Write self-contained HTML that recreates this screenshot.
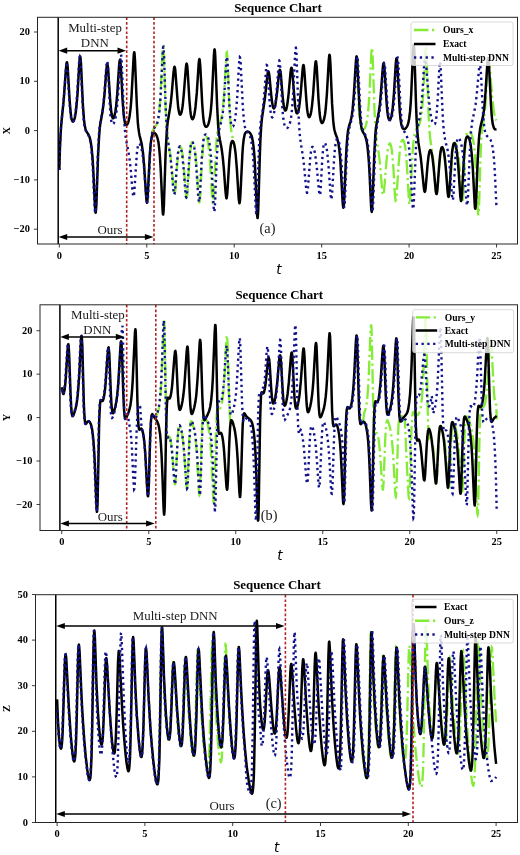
<!DOCTYPE html>
<html><head><meta charset="utf-8"><title>Sequence Chart</title><style>
html,body{margin:0;padding:0;background:#fff;width:520px;height:855px;overflow:hidden;}
svg{display:block;filter:blur(0.45px);}
</style></head><body>
<svg width="520" height="855" viewBox="0 0 520 855">
<rect width="520" height="855" fill="#fff"/>
<clipPath id="clip0"><rect x="37.5" y="17.3" width="480.0" height="226.7"/></clipPath>
<g clip-path="url(#clip0)"><polyline points="148.5,182.0 149.4,162.6 150.1,150.1 150.8,141.2 151.5,135.6 152.2,132.1 152.9,130.1 153.6,128.8 155.3,126.7 156.0,125.6 156.7,124.1 157.2,122.7 158.3,118.1 159.2,111.8 159.9,104.1 160.6,93.4 162.5,52.4 162.8,47.9 163.0,46.9 163.2,46.8 163.5,49.5 163.9,56.0 165.6,107.9 166.2,119.6 166.9,130.6 167.9,140.4 169.8,151.7 170.7,158.0 171.8,168.2 173.5,188.9 174.0,193.1 174.4,194.4 174.6,194.5 174.7,194.2 174.9,193.6 175.4,189.5 177.4,162.8 178.2,153.7 178.8,150.1 179.3,147.8 179.8,146.7 180.0,146.5 180.3,146.5 180.9,147.1 181.6,149.3 182.3,152.9 182.8,156.6 183.8,167.2 185.8,192.5 186.3,196.7 186.5,197.3 186.6,197.5 186.8,197.3 187.2,195.5 187.7,189.7 189.4,161.1 190.3,150.8 190.8,146.8 191.3,144.1 191.9,142.6 192.2,142.1 192.6,142.0 192.9,142.3 193.4,143.2 194.1,145.5 194.8,149.1 195.5,154.3 196.8,168.3 198.7,197.9 199.2,201.8 199.4,202.1 199.6,201.9 199.9,199.7 200.3,195.3 202.0,160.6 203.1,146.0 203.6,141.5 204.3,137.9 205.0,136.1 205.3,135.7 205.9,135.6 206.2,135.8 206.7,136.8 207.4,139.3 208.1,143.0 208.8,148.5 210.1,163.3 212.2,199.2 212.5,202.4 212.7,203.0 213.0,203.0 213.4,200.8 213.7,195.9 215.7,152.7 216.7,137.4 217.2,132.8 217.9,128.7 218.6,126.0 220.4,121.4 221.3,118.4 222.1,114.0 222.8,108.9 223.5,101.7 224.2,91.9 226.2,57.0 226.5,53.3 226.7,52.4 226.9,52.2 227.2,54.6 227.6,60.0 229.3,104.2 230.4,122.2 230.9,127.7 231.6,132.7 232.3,136.0 233.9,142.2 234.7,146.8" fill="none" stroke="#84ec34" stroke-width="2.3" stroke-dasharray="14.4 3.6 2.2 3.6"/><polyline points="356.6,56.3 356.8,56.9 357.2,61.4 358.7,105.2 359.6,120.3 360.1,125.1 360.8,128.4 361.2,129.2 361.7,129.9 362.4,130.1 363.1,129.9 364.0,129.2 364.7,128.3 365.4,126.8 366.1,124.8 367.1,119.8 368.0,113.0 368.7,105.0 369.4,93.9 371.3,53.3 371.7,49.0 371.8,47.9 372.0,47.8 372.4,50.7 372.7,57.6 374.5,110.0 375.0,121.3 375.5,129.6 376.0,135.6 376.6,139.9 378.5,151.3 379.5,159.3 380.4,168.4 382.0,188.3 382.5,193.2 382.9,194.9 383.0,195.2 383.2,195.1 383.4,194.8 383.7,193.2 384.1,190.6 386.4,162.0 387.6,150.6 388.1,147.5 388.8,144.9 389.5,143.6 389.9,143.4 390.0,143.5 390.4,144.0 390.7,144.9 391.3,147.0 391.8,150.2 392.3,154.6 393.4,167.7 394.9,194.6 395.5,200.0 395.6,200.6 395.8,200.4 396.2,198.8 396.7,193.9 398.8,162.3 399.8,150.5 400.5,145.4 401.2,142.3 401.6,141.3 402.1,140.3 402.5,140.0 403.0,140.0 403.3,140.3 403.9,141.3 404.6,143.7 405.3,147.6 406.0,153.4 407.0,166.8 408.8,198.4 409.1,202.7 409.4,204.5 409.6,204.4 409.8,203.7 410.3,198.2 412.4,156.3 412.9,148.3 413.6,140.6 414.3,135.5 415.0,132.4 415.9,130.1 418.4,126.4 419.6,123.7 420.6,119.8 421.5,114.5 422.2,108.3 422.9,99.7 423.8,84.7 425.2,55.9 425.7,49.3 425.9,48.4 426.1,48.3 426.4,51.4 426.8,58.8 428.3,109.0 428.9,121.3 429.4,130.2 430.3,139.5 432.2,151.8 433.1,158.6 433.9,167.7 435.5,187.8 436.2,193.5" fill="none" stroke="#84ec34" stroke-width="2.3" stroke-dasharray="14.4 3.6 2.2 3.6"/><polyline points="436.6,194.2 436.7,194.1 437.1,192.8 437.6,188.5 439.4,165.3 440.2,155.9 441.1,150.1 441.6,148.3 442.2,147.4" fill="none" stroke="#84ec34" stroke-width="2.3" stroke-dasharray="14.4 3.6 2.2 3.6"/><polyline points="443.0,148.0 443.6,149.5 444.1,151.8 445.1,159.0 446.0,168.0 447.9,192.4 448.5,196.1 448.6,196.6 448.8,196.7 449.0,196.6 449.3,195.2 449.9,190.5 452.0,159.8 452.5,153.9 453.2,148.2 453.9,144.8 454.2,143.8 454.7,143.0 455.1,142.9 455.6,143.3 456.5,145.1 457.2,147.7 457.7,150.4 458.8,158.1 459.8,169.7 461.7,196.8 462.3,201.4 462.6,202.6 463.0,199.9 463.3,193.5 464.9,152.0 465.4,143.2 465.9,137.6 466.6,133.5 467.2,132.0 467.7,131.3 468.4,131.1 469.4,131.5 470.3,132.3 471.2,133.6 472.2,136.2 473.1,139.7 474.0,145.3 474.7,151.8 475.9,169.9 477.7,207.6 478.0,212.8 478.4,215.4 478.5,214.7 478.7,212.8 479.1,205.1 480.5,157.4 481.3,138.5 482.2,128.9 484.1,117.4 485.2,107.8 486.1,94.8 487.5,66.2 488.0,59.4 488.2,58.6 488.5,59.0 488.7,59.5 489.2,62.4 489.6,65.3 492.2,96.7 493.6,109.6 494.3,113.9 495.0,117.0 495.9,119.4 496.5,120.4" fill="none" stroke="#84ec34" stroke-width="2.3" stroke-dasharray="14.4 3.6 2.2 3.6"/><polyline points="59.3,170.0 60.0,146.4 60.9,129.2 61.6,120.7 63.7,100.1 65.8,70.7 66.5,63.5 66.8,62.2 67.0,62.2 67.3,63.8 67.7,67.3 69.6,100.1 70.7,113.0 71.2,116.9 71.7,119.5 72.4,121.2 72.8,121.5 73.1,121.6 73.5,121.3 74.0,120.4 74.9,117.6 75.7,112.8 76.4,107.0 77.5,94.3 79.4,61.9 79.8,58.1 80.1,56.5 80.3,56.7 80.5,57.5 81.0,63.7 82.9,105.0 84.0,119.7 84.7,125.3 85.4,128.6 86.2,131.1 88.5,134.7 89.6,137.1 90.6,141.3 91.5,147.0 92.4,156.1 93.1,166.7 95.0,207.1 95.3,211.5 95.5,212.6 95.7,212.7 96.0,210.1 96.4,204.0 98.1,154.6 99.2,134.9 99.7,128.8 100.2,124.4 102.5,111.7 103.5,104.2 104.6,93.3 106.3,70.4 107.0,64.8 107.2,64.3 107.4,64.3 107.6,64.7 108.1,68.3 110.2,100.5 111.1,110.3 111.6,114.1 112.1,116.5 112.6,117.9 113.0,118.2 113.3,118.2 113.7,117.9 114.0,117.2 114.7,114.9 115.4,111.3 116.0,107.5 117.2,94.4 119.1,65.6 119.6,60.9 119.8,60.2 120.0,60.1 120.2,60.5 120.5,63.1 120.9,67.5 122.6,100.7 123.7,114.7 124.2,119.0 124.9,122.6 125.2,123.7 125.8,124.6 126.1,124.9 126.6,124.9 127.2,124.5 127.7,123.6 128.2,122.4 128.7,120.6 129.6,116.2 130.5,109.2 131.2,101.1 131.7,93.1 133.5,59.2 133.8,54.5 134.2,52.3 134.3,52.3 134.5,53.1 135.0,60.3 136.8,104.2 137.8,122.3 138.4,127.9 139.1,132.9 139.6,135.6 141.2,141.8 141.9,145.1 143.1,153.6 144.1,165.4 145.9,193.4 146.6,201.5 146.9,202.7 147.1,202.5 147.6,198.2 149.7,157.3 150.2,149.5 150.9,142.0 151.6,137.4 152.0,135.9 152.5,134.4 153.0,133.5 153.7,133.0 154.4,133.0 155.1,133.4 155.8,134.2 156.5,135.4 157.6,138.4 158.5,142.6 159.3,149.4 160.0,157.7 160.7,169.4 162.5,208.4 162.8,213.2 163.0,214.3 163.2,214.5 163.5,211.8 163.9,205.3 165.6,153.3 166.7,132.9 167.2,126.6 167.7,122.0 170.0,108.4 170.9,101.7 171.8,93.0 173.5,72.3 174.2,67.3 174.4,66.8 174.6,66.7 174.7,67.0 175.1,68.6 175.4,71.6 177.4,98.3 178.2,107.5 178.8,111.1 179.3,113.4 179.8,114.5 180.0,114.7 180.3,114.7 180.9,114.1 181.6,111.9 182.3,108.3 182.8,104.5 183.8,94.0 185.8,68.7 186.3,64.5 186.5,63.8 186.6,63.6 186.8,63.9 187.2,65.7 187.7,71.5 189.4,100.1 190.3,110.4 190.8,114.5 191.3,117.1 191.9,118.6 192.2,119.1 192.6,119.2 192.9,119.0 193.4,118.0 194.1,115.8 194.8,112.1 195.5,106.9 196.8,92.9 198.7,63.3 199.2,59.4 199.4,59.1 199.6,59.4 199.9,61.8 200.3,66.2 202.2,103.6 203.2,117.0 203.9,122.1 204.6,125.0 205.0,125.8 205.5,126.6 206.0,126.8 206.6,126.7 207.3,126.1 207.8,125.3 208.5,123.7 209.0,121.9 209.9,117.6 210.8,110.8 211.5,102.6 212.0,94.5 213.9,55.0 214.3,50.6 214.4,49.6 214.6,49.4 215.0,51.7 215.3,57.5 217.1,105.5 218.1,125.0 218.6,131.1 219.2,135.4 219.9,139.7 221.6,148.5 222.8,157.6 223.9,169.4 225.5,191.3 226.2,197.5 226.3,198.1 226.5,198.3 226.7,198.0 227.2,194.3 227.7,187.1 229.3,160.2 230.2,149.8 230.7,145.8 231.2,143.1 231.9,141.3 232.3,140.9 232.6,140.9 233.0,141.3 233.5,142.3 234.2,144.6 234.9,148.3 235.6,153.5 236.8,167.8 238.7,198.6 239.3,202.9 239.4,203.3 239.6,203.0 240.0,200.6 240.5,193.0 242.4,154.0 242.9,146.7 243.6,140.0 244.5,135.2 245.0,133.6 245.6,132.6 246.3,131.9 247.1,131.6 248.0,131.7 249.1,132.2 249.9,132.9 250.6,133.9 251.3,135.3 251.9,136.8 252.9,141.7 253.8,148.7 254.5,157.4 255.0,166.3 256.8,208.8 257.1,215.2 257.5,218.1 257.6,218.0 257.8,216.6 258.2,210.6 259.9,153.4 260.4,140.1 261.1,127.6 262.0,118.0 264.8,99.0 267.3,76.4 267.8,73.0 268.1,71.8 268.3,71.5 268.5,71.5 268.8,72.4 269.4,75.5 271.3,95.8 272.2,103.1 273.0,107.2 273.4,108.0 273.6,108.2 273.9,108.4 274.3,108.1 274.8,107.0 275.3,105.0 275.8,102.1 276.9,94.0 279.0,73.3 279.5,70.4 279.8,69.8 280.0,69.9 280.4,71.1 280.9,75.0 282.6,95.8 283.5,104.1 284.4,108.9 284.9,110.2 285.1,110.5 285.4,110.6 286.0,110.0 286.5,108.5 287.0,106.2 287.5,103.1 288.6,94.1 290.5,72.7 291.0,68.9 291.4,67.7 291.6,67.7 291.9,68.6 292.4,72.6 294.4,97.9 295.2,106.7 296.1,111.6 296.6,113.0 296.8,113.2 297.2,113.4 297.7,112.9 298.4,110.9 299.1,107.4 299.6,103.7 300.7,93.5 302.6,69.5 303.1,65.7 303.3,65.1 303.5,65.0 303.8,65.9 304.3,70.3 306.3,99.3 307.1,109.1 307.7,112.9 308.2,115.4 308.7,116.8 309.2,117.2 309.6,117.0 309.9,116.4 310.6,114.4 311.3,110.9 312.0,105.8 313.1,94.7 315.0,66.9 315.5,62.2 315.7,61.5 315.9,61.2 316.1,61.5 316.2,62.3 316.8,67.6 318.5,99.1 319.6,113.0 320.1,117.3 320.8,120.9 321.5,122.6 321.8,123.0 322.2,123.0 322.7,122.6 323.2,121.7 324.1,119.0 325.0,114.5 325.7,109.0 326.9,94.0 328.8,59.9 329.2,56.1 329.3,55.1 329.5,54.8 329.7,55.1 329.9,56.2 330.4,63.5 332.1,103.9 333.2,120.3 333.7,125.3 334.4,129.8 335.3,133.2 336.9,137.4 337.7,140.3 338.6,144.5 339.3,149.5 340.0,156.5 340.5,163.3 342.6,201.5 343.0,205.8 343.3,207.7 343.5,207.6 343.7,206.7 344.2,199.6 346.0,157.4 346.5,147.5 347.2,138.0 347.7,133.2 348.2,129.8 348.9,126.7 350.5,121.3 351.2,118.5 351.9,114.7 352.6,109.4 353.8,95.3 355.8,62.6 356.3,57.1 356.5,56.4 356.6,56.3 357.0,58.1 357.3,62.5 359.3,103.9 360.3,119.2 361.0,125.1 361.7,128.7 362.6,131.3 364.7,135.0 365.7,137.6 366.8,142.0 367.6,147.9 368.3,155.0 368.9,162.3 369.6,174.8 371.0,204.7 371.3,209.7 371.7,211.9 371.8,211.7 372.0,210.5 372.5,202.0 374.3,153.7 375.3,135.0 375.9,129.3 376.4,125.1 378.8,112.0 379.9,104.2 380.9,92.8 382.7,68.8 383.2,64.2 383.6,63.1 383.7,63.1 384.1,64.8 384.6,70.4 386.4,99.8 387.2,110.5 387.8,114.8 388.3,117.7 389.0,119.7 389.3,120.1 389.7,120.1 390.0,119.8 390.6,118.9 391.3,116.6 392.0,113.1 392.7,107.9 393.9,94.0 395.8,63.2 396.3,58.6 396.5,58.2 396.7,58.3 397.0,60.3 397.4,64.7 399.3,103.4 399.8,111.6 400.5,119.3 401.4,124.9 402.3,127.6 402.8,128.4 403.5,129.0 404.4,129.0 405.3,128.7 406.1,127.9 406.8,126.9 407.5,125.5 408.1,123.9 409.1,119.0 410.0,111.9 410.7,103.3 411.2,94.5 413.1,50.1 413.5,45.6 413.6,44.7 413.8,44.9 414.2,48.5 414.5,56.1 416.1,106.5 416.6,119.4 417.3,131.6 418.4,142.4 420.5,155.7 421.3,162.4 423.8,187.3 424.3,190.7 424.7,191.7 424.8,191.8 425.0,191.5 425.2,191.0 425.7,187.5 427.6,164.4 428.5,156.3 429.4,151.6 429.9,150.4 430.1,150.2 430.4,150.1 431.0,150.8 431.5,152.3 432.5,157.9 433.6,167.1 435.7,190.5 436.2,193.6 436.4,194.0 436.6,194.0 436.7,193.7 437.1,191.9 437.6,186.9 439.2,164.9 440.1,155.4 440.6,151.5 441.1,148.9 441.6,147.5 441.8,147.3 442.2,147.1 442.7,147.6 443.4,149.6 444.1,153.0 444.6,156.6 445.7,166.8 447.6,191.5 448.1,195.8 448.5,196.9 448.6,196.8 449.0,195.3 449.5,190.0 451.3,162.3 452.1,152.0 452.7,147.9 453.2,145.2 453.7,143.6 454.0,143.1 454.4,143.0 454.7,143.3 455.1,143.9 455.8,146.0 456.5,149.4 457.2,154.4 458.4,167.9 460.3,196.5 460.9,200.6 461.0,201.0 461.2,200.8 461.6,198.9 462.1,192.3 463.7,162.2 464.7,147.6 465.2,143.0 465.9,139.1 466.3,137.9 466.8,136.8 467.2,136.5 467.7,136.4 468.2,136.8 468.7,137.7 469.3,138.9 469.8,140.7 470.7,145.0 471.5,151.9 472.2,160.0 472.8,167.9 474.7,204.1 475.0,207.8 475.2,208.6 475.4,208.7 475.7,206.4 476.1,201.1 477.8,157.6 478.9,139.5 479.4,133.8 480.1,128.8 480.8,125.4 482.9,116.9 483.6,112.8 484.3,107.2 485.5,92.6 487.3,64.1 487.6,60.2 488.0,58.2 488.2,58.0 488.3,58.5 488.9,63.5 491.0,105.3 491.5,113.0 492.2,120.3 492.9,124.7 493.8,127.7 494.3,128.6 495.0,129.2 495.7,129.4 496.5,129.3" fill="none" stroke="#000" stroke-width="2.5" stroke-linejoin="round"/><polyline points="59.3,170.0 60.0,146.4 60.9,129.2 61.6,120.7 63.1,105.8 63.8,98.1 66.5,62.2 66.6,62.2 66.8,62.8 67.3,67.3 69.3,100.1 70.3,113.0 70.8,116.9 71.4,119.5 72.1,121.2 72.4,121.5 72.8,121.5 73.1,121.3 73.6,120.4 74.5,117.5 75.2,113.9 75.9,108.6 77.1,94.3 79.1,61.9 79.6,57.0 79.8,56.5 79.9,56.7 80.3,59.0 80.6,63.7 82.6,105.0 83.6,119.6 84.3,125.3 85.0,128.6 85.9,131.0 88.2,134.7 89.2,137.1 90.3,141.3 91.1,147.0 92.0,156.1 92.7,166.7 94.6,207.1 95.0,211.5 95.2,212.6 95.3,212.7 95.7,210.3 96.0,204.4 97.8,155.6 98.8,135.7 99.4,129.5 99.9,125.1 100.6,120.8 102.3,111.7 103.5,102.5 104.6,90.5 106.2,68.2 106.7,62.9 107.0,61.3 107.2,61.1 107.4,61.2 107.9,66.1 109.7,103.4 110.5,115.8 111.1,120.1 111.6,122.6 111.9,123.6 112.3,124.1 112.6,124.2 113.0,124.1 113.5,123.7 114.0,122.8 115.1,119.7 116.0,115.4 116.8,109.0 117.5,101.9 118.2,92.7 120.2,61.2 120.7,55.9 121.0,54.7 121.4,56.9 121.7,62.1 123.7,110.1 124.2,120.2 124.9,130.1 125.9,139.2 128.4,151.3 129.6,159.4 130.7,169.3 132.4,189.8 133.1,195.5 133.5,196.6 133.6,196.7 133.8,196.3 134.3,192.3 136.3,161.2 137.1,151.0 137.7,147.1 138.2,144.8 138.7,143.6 138.9,143.5 139.2,143.5 139.6,143.7 140.1,144.5 141.0,146.9 141.9,150.6 142.6,154.8 143.3,160.3 144.0,167.3 146.4,197.7 146.9,201.3 147.1,201.9 147.3,202.1 147.4,202.0 147.8,199.8 148.3,192.1 150.2,151.9 150.8,144.3 151.5,137.3 152.2,133.0 153.0,130.0 153.9,128.4 156.2,125.4 156.9,124.0 157.6,122.0 158.6,117.1 159.5,110.3 160.2,102.0 160.7,93.7 162.7,52.4 163.0,47.9 163.2,46.9 163.4,46.8 163.7,49.8 164.1,56.8 165.6,106.2 166.2,118.8 166.9,130.6 167.7,139.4 169.8,152.6 170.7,159.5 171.6,168.7 173.2,188.4 173.9,193.8 174.0,194.4 174.2,194.5 174.4,194.2 174.7,192.6 175.1,189.5 177.0,162.8 177.9,153.7 178.4,150.1 178.9,147.8 179.5,146.7 179.6,146.5 180.0,146.5 180.5,147.1 181.2,149.3 181.9,152.9 182.4,156.6 183.5,167.2 185.4,192.5 185.9,196.7 186.1,197.3 186.3,197.5 186.5,197.3 186.8,195.5 187.3,189.7 189.1,161.1 190.0,150.8 190.5,146.8 191.0,144.1 191.5,142.6 191.9,142.1 192.2,142.0 192.6,142.3 193.1,143.2 193.8,145.5 194.5,149.1 195.2,154.3 196.4,168.3 198.3,197.9 198.9,201.8 199.0,202.1 199.2,201.8 199.6,199.4 199.9,195.0 201.8,157.6 202.9,144.2 203.6,139.1 204.3,136.3 204.6,135.4 205.2,134.7 205.7,134.4 206.2,134.5 206.9,135.1 207.4,135.9 208.1,137.6 208.7,139.3 209.5,143.6 210.4,150.4 211.1,158.6 211.6,166.7 213.6,206.2 213.9,210.6 214.1,211.6 214.3,211.8 214.6,209.6 215.0,204.2 216.7,159.6 217.8,141.4 218.3,135.8 219.0,130.9 219.5,128.3 221.1,122.4 221.8,119.3 222.5,115.1 223.2,109.3 224.2,96.4 226.0,65.3 226.3,60.3 226.7,57.3 226.9,56.7 227.0,57.1 227.6,63.3 229.1,100.7 230.0,115.3 230.5,120.5 231.1,123.7 231.8,125.9 232.1,126.4 232.6,126.7 233.0,126.5 233.5,125.8 234.4,123.2 235.2,118.5 235.9,112.9 237.2,97.5 239.1,62.9 239.4,58.9 239.8,57.1 240.0,57.3 240.1,58.0 240.7,63.7 242.8,106.1 243.5,116.0 244.2,122.6 244.9,126.7 245.7,129.6 246.6,131.2 248.4,133.4 249.1,134.4 249.8,135.8 250.3,137.2 251.0,139.8 251.5,142.5 252.4,149.1 253.1,156.9 253.8,167.7 255.7,208.1 256.1,212.3 256.2,213.3 256.4,213.4 256.8,210.8 257.1,203.7 258.7,153.3 259.2,141.0 259.7,132.2 260.6,123.1 262.5,110.9 263.4,103.8 264.3,93.9 265.9,71.5 266.2,67.7 266.6,65.5 266.7,65.0 266.9,65.1 267.1,65.7 267.6,70.1 269.4,98.2 270.2,108.9 270.8,113.1 271.3,115.7 271.8,117.0 272.2,117.3 272.3,117.2 272.7,116.9 273.2,116.0 273.9,113.7 274.6,110.2 275.3,105.4 276.5,92.9 278.6,64.7 279.1,61.0 279.3,60.6 279.5,60.8 279.8,63.0 280.2,67.1 282.1,103.4 282.6,111.1 283.3,118.5 284.0,123.2 284.9,126.4 285.4,127.4 286.0,127.9 286.7,128.1 287.4,127.9 288.1,127.3 288.8,126.2 289.5,124.6 290.0,122.9 290.9,118.8 291.7,112.3 292.4,104.6 293.1,94.0 295.1,54.0 295.4,49.4 295.6,48.2 295.8,47.8 295.9,47.8 296.1,48.9 296.5,54.1 298.4,110.8 298.9,122.3 299.6,133.1 300.7,142.6 302.4,153.0 303.3,159.2 304.2,167.1 306.1,188.0 306.6,191.6 307.0,192.7 307.1,192.7 307.5,191.6 308.0,187.3 309.8,163.2 310.6,154.0 311.2,150.4 311.7,148.1 312.2,147.0 312.4,146.9 312.7,146.9 313.1,147.2 313.4,147.7 314.1,149.6 314.8,152.6 315.5,156.8 316.8,167.4 318.9,190.4 319.4,194.0 319.7,195.1 319.9,195.2 320.3,193.5 320.6,189.5 322.2,160.4 322.9,151.0 323.2,147.8 323.7,144.7 324.3,143.2 324.4,143.0 324.8,142.9 325.1,143.2 325.5,143.9 326.2,146.2 326.9,149.9 327.4,153.8 328.6,167.0 330.6,195.0 331.1,199.1 331.3,199.6 331.4,199.3 331.8,197.2 332.1,193.3 333.9,162.3 334.9,148.6 335.5,144.3 336.2,140.8 336.5,139.8 336.9,139.2 337.2,139.0 337.6,139.0 337.9,139.3 338.4,140.3 339.3,143.3 340.0,147.3 340.7,153.1 341.4,161.5 341.9,169.7 343.5,200.5 343.9,205.3 344.2,207.5 344.6,205.6 344.9,200.8 346.8,155.2 347.9,138.8 348.4,133.7 349.1,129.2 349.8,126.2 351.9,118.7 352.6,115.1 353.3,110.0 354.0,103.1 354.7,93.8 356.6,61.3 357.0,57.7 357.3,56.3 357.7,58.1 358.0,62.5 360.0,103.9 361.0,119.3 361.7,125.2 362.4,128.7 363.3,131.3 365.4,135.0 366.4,137.6 367.3,141.1 368.2,146.5 369.0,155.1 369.7,165.1 371.8,207.5 372.2,211.2 372.4,211.9 372.5,211.7 372.9,208.5 373.2,202.0 375.0,153.7 376.0,135.0 376.6,129.3 377.1,125.1 379.5,112.0 380.6,104.2 381.6,92.8 383.2,70.9 383.9,64.2 384.3,63.1 384.4,63.2 384.8,64.8 385.1,68.1 387.1,99.7 388.1,112.1 388.6,115.9 389.2,118.3 389.7,119.6 390.0,120.0 390.4,120.1 390.7,119.8 391.3,118.9 392.1,116.1 392.8,112.5 393.5,107.3 394.8,93.4 396.7,63.0 397.2,58.3 397.4,57.7 397.6,57.6 397.7,57.9 397.9,58.8 398.4,65.0 400.4,104.6 401.4,119.0 402.1,124.6 402.8,128.0 403.7,130.5 406.0,134.4 407.0,136.9 407.9,140.2 408.8,145.5 409.4,151.7 410.1,160.4 410.8,172.2 412.4,203.7 412.8,207.8 412.9,208.8 413.1,209.0 413.3,208.6 413.5,207.3 413.8,202.0 415.6,155.2 416.1,144.4 416.6,136.5 417.1,130.9 417.7,127.0 420.1,115.1 420.8,110.5 421.3,105.9 422.4,93.2 424.1,65.0 424.5,61.3 424.8,59.6 425.2,59.8 425.5,61.0 426.2,65.9 429.0,100.5 429.7,107.5 430.4,113.0 431.3,118.0 432.2,121.3 433.1,123.2 433.6,123.8 434.3,124.2 434.8,124.1 435.0,123.9 435.5,122.4 436.2,118.3 436.7,113.5 437.8,98.1 439.4,66.3 439.7,62.4 439.9,61.6 440.1,61.9 440.4,64.8 440.8,70.3 442.5,111.0 443.0,120.5 443.7,129.8 444.3,134.6 444.8,138.1 445.5,141.5 447.6,150.0 448.8,157.8 450.0,170.3 451.8,193.8 452.5,199.5 452.7,200.0 452.8,200.1 453.0,199.7 453.5,194.8 455.3,159.7 456.1,147.3 456.7,142.8 457.2,140.0 457.5,138.9 457.9,138.2 458.2,138.0 458.6,138.0 459.1,138.4 459.6,139.2 460.7,141.8 461.7,146.3 462.6,152.0 463.3,158.3 464.0,166.3 466.3,199.9 466.8,204.5 467.2,205.5 467.5,203.4 467.9,198.4 470.0,148.1 470.5,138.8 471.2,129.8 472.2,121.6 474.5,110.7 475.6,104.5 476.8,93.9 478.9,70.4 479.2,67.7 479.6,66.0 479.8,65.6 479.9,65.5 480.1,65.6 480.5,67.6 481.0,74.4 483.1,114.3 483.8,123.0 484.5,128.7 485.2,132.2 486.1,134.6 486.9,135.9 488.9,137.7 489.7,138.6 490.4,139.7 491.1,141.3 491.8,143.5 492.4,145.9 493.4,153.0 494.1,160.6 494.8,171.1 496.5,208.0" fill="none" stroke="#12128c" stroke-width="2.4" stroke-dasharray="2.3 3.5"/></g>
<line x1="126.7" y1="17.3" x2="126.7" y2="244.0" stroke="#b02424" stroke-width="1.6" stroke-dasharray="2.7 2.0"/>
<line x1="154.0" y1="17.3" x2="154.0" y2="244.0" stroke="#b02424" stroke-width="1.6" stroke-dasharray="2.7 2.0"/>
<line x1="58.2" y1="17.3" x2="58.2" y2="244.0" stroke="#000" stroke-width="1.5"/>
<line x1="66.2" y1="50.7" x2="118.5" y2="50.7" stroke="#000" stroke-width="1.5"/><polygon points="58.6,50.7 67.2,47.6 67.2,53.800000000000004" fill="#000"/><polygon points="126.1,50.7 117.5,47.6 117.5,53.800000000000004" fill="#000"/>
<line x1="66.2" y1="237.0" x2="145.9" y2="237.0" stroke="#000" stroke-width="1.5"/><polygon points="58.6,237.0 67.2,233.9 67.2,240.1" fill="#000"/><polygon points="153.5,237.0 144.9,233.9 144.9,240.1" fill="#000"/>
<text x="95" y="32.1" text-anchor="middle" font-family="'Liberation Serif','Times New Roman',serif" font-size="12.9" fill="#1a1a1a">Multi-step</text>
<text x="94.8" y="46.9" text-anchor="middle" font-family="'Liberation Serif','Times New Roman',serif" font-size="12.9" fill="#1a1a1a">DNN</text>
<text x="110" y="233.7" text-anchor="middle" font-family="'Liberation Serif','Times New Roman',serif" font-size="12.9" fill="#1a1a1a">Ours</text>
<text x="267.5" y="232.6" text-anchor="middle" font-family="'Liberation Serif','Times New Roman',serif" font-size="14.3" fill="#1a1a1a">(a)</text>
<rect x="411" y="22" width="102" height="43.5" rx="2" fill="#fff" fill-opacity="0.8" stroke="#d0d0d0" stroke-width="0.8"/>
<line x1="414" y1="30" x2="435.5" y2="30" stroke="#84ec34" stroke-width="2.3" stroke-dasharray="14.4 3.6 2.2 3.6"/>
<text x="443" y="33.4" font-family="'Liberation Serif','Times New Roman',serif" font-weight="bold" font-size="9.6" fill="#000">Ours_x</text>
<line x1="414" y1="44" x2="435.5" y2="44" stroke="#000" stroke-width="2.5"/>
<text x="443" y="47.4" font-family="'Liberation Serif','Times New Roman',serif" font-weight="bold" font-size="9.6" fill="#000">Exact</text>
<line x1="414" y1="57.5" x2="435.5" y2="57.5" stroke="#12128c" stroke-width="2.4" stroke-dasharray="2.3 3.5"/>
<text x="443" y="60.9" font-family="'Liberation Serif','Times New Roman',serif" font-weight="bold" font-size="9.6" fill="#000">Multi-step DNN</text>
<rect x="37.5" y="17.3" width="480.0" height="226.7" fill="none" stroke="#262626" stroke-width="1"/>
<line x1="59.30" y1="244.0" x2="59.30" y2="247.5" stroke="#262626" stroke-width="0.9"/>
<text x="59.30" y="258.6" text-anchor="middle" font-family="'Liberation Serif','Times New Roman',serif" font-weight="bold" font-size="10.4" fill="#000">0</text>
<line x1="146.75" y1="244.0" x2="146.75" y2="247.5" stroke="#262626" stroke-width="0.9"/>
<text x="146.75" y="258.6" text-anchor="middle" font-family="'Liberation Serif','Times New Roman',serif" font-weight="bold" font-size="10.4" fill="#000">5</text>
<line x1="234.20" y1="244.0" x2="234.20" y2="247.5" stroke="#262626" stroke-width="0.9"/>
<text x="234.20" y="258.6" text-anchor="middle" font-family="'Liberation Serif','Times New Roman',serif" font-weight="bold" font-size="10.4" fill="#000">10</text>
<line x1="321.65" y1="244.0" x2="321.65" y2="247.5" stroke="#262626" stroke-width="0.9"/>
<text x="321.65" y="258.6" text-anchor="middle" font-family="'Liberation Serif','Times New Roman',serif" font-weight="bold" font-size="10.4" fill="#000">15</text>
<line x1="409.10" y1="244.0" x2="409.10" y2="247.5" stroke="#262626" stroke-width="0.9"/>
<text x="409.10" y="258.6" text-anchor="middle" font-family="'Liberation Serif','Times New Roman',serif" font-weight="bold" font-size="10.4" fill="#000">20</text>
<line x1="496.55" y1="244.0" x2="496.55" y2="247.5" stroke="#262626" stroke-width="0.9"/>
<text x="496.55" y="258.6" text-anchor="middle" font-family="'Liberation Serif','Times New Roman',serif" font-weight="bold" font-size="10.4" fill="#000">25</text>
<line x1="34.0" y1="229.20" x2="37.5" y2="229.20" stroke="#262626" stroke-width="0.9"/>
<text x="30.0" y="232.30" text-anchor="end" font-family="'Liberation Serif','Times New Roman',serif" font-weight="bold" font-size="10.4" fill="#000">−20</text>
<line x1="34.0" y1="179.90" x2="37.5" y2="179.90" stroke="#262626" stroke-width="0.9"/>
<text x="30.0" y="183.00" text-anchor="end" font-family="'Liberation Serif','Times New Roman',serif" font-weight="bold" font-size="10.4" fill="#000">−10</text>
<line x1="34.0" y1="130.60" x2="37.5" y2="130.60" stroke="#262626" stroke-width="0.9"/>
<text x="30.0" y="133.70" text-anchor="end" font-family="'Liberation Serif','Times New Roman',serif" font-weight="bold" font-size="10.4" fill="#000">0</text>
<line x1="34.0" y1="81.30" x2="37.5" y2="81.30" stroke="#262626" stroke-width="0.9"/>
<text x="30.0" y="84.40" text-anchor="end" font-family="'Liberation Serif','Times New Roman',serif" font-weight="bold" font-size="10.4" fill="#000">10</text>
<line x1="34.0" y1="32.00" x2="37.5" y2="32.00" stroke="#262626" stroke-width="0.9"/>
<text x="30.0" y="35.10" text-anchor="end" font-family="'Liberation Serif','Times New Roman',serif" font-weight="bold" font-size="10.4" fill="#000">20</text>
<text x="0" y="0" transform="translate(10.2,130.7) rotate(-90)" text-anchor="middle" font-family="'Liberation Serif','Times New Roman',serif" font-weight="bold" font-size="10.4" fill="#000">X</text>
<text x="279" y="273.5" text-anchor="middle" font-family="'DejaVu Sans',sans-serif" font-style="italic" font-size="13.5" fill="#000">t</text>
<text x="278.0" y="11.5" text-anchor="middle" font-family="'Liberation Serif','Times New Roman',serif" font-weight="bold" font-size="12.9" fill="#000">Sequence Chart</text>
<clipPath id="clip1"><rect x="40" y="304.8" width="477.5" height="225.7"/></clipPath>
<g clip-path="url(#clip1)"><polyline points="155.2,418.6 155.5,418.7 155.9,418.2 156.8,414.6 157.8,412.3 158.7,409.3 159.5,404.6 160.4,396.8 161.1,387.3 161.6,377.5 163.4,330.2 163.7,323.1 163.9,321.1 164.1,320.6 164.4,324.9 164.8,336.8 166.0,405.6 166.3,419.7 166.8,432.0 167.2,435.8 167.5,437.3 167.7,437.6 167.9,437.6 168.8,436.8 169.1,436.6 169.6,437.0 170.3,438.9 171.0,442.6 172.1,451.7 174.2,478.8 174.5,482.1 174.8,484.1 175.0,484.3 175.2,484.0 175.4,483.0 175.9,476.7 177.3,445.5 178.0,433.5 178.7,427.2 179.0,425.8 179.2,425.5 179.5,425.3 179.9,425.6 180.4,426.9 181.3,430.2 182.2,434.8 182.9,439.8 183.5,446.3 184.2,454.7 186.2,483.8 186.7,488.3 186.9,488.7 187.0,488.5 187.4,485.7 187.7,480.1 189.1,443.0 189.8,429.5 190.2,425.4 190.5,422.9 190.9,421.6 191.0,421.3 191.4,421.2 191.9,421.9 192.4,423.3 193.6,427.7 194.7,433.1 195.6,439.8 196.3,447.2 196.9,457.1 198.9,491.5 199.2,494.8 199.4,495.3 199.6,495.0 199.9,491.5 200.3,484.0 201.5,442.7 202.2,425.3 202.5,420.2 202.9,417.2 203.2,415.6 203.4,415.2 203.7,415.0 204.1,415.3 204.4,415.9 207.2,421.5 207.7,423.9 209.1,432.2 209.8,437.4 210.5,444.9 211.2,455.2 213.1,496.6 213.5,502.1 213.7,503.6 213.8,504.1 214.0,503.4 214.2,501.5 214.5,493.5 215.9,435.0 216.3,423.8 216.8,413.2 217.1,409.5 217.7,407.3 217.8,407.1 218.2,407.1 219.2,408.3 219.7,408.5 220.1,408.4 220.4,408.1 221.0,407.0 221.8,403.9 222.7,398.4 223.4,392.0 224.1,383.0 224.8,371.0 226.2,342.6 226.5,337.6 226.9,335.4 227.0,335.8 227.2,337.3 227.6,343.6 229.1,400.8 229.5,410.2 230.0,419.1 230.4,422.2 230.5,423.1 230.9,424.0 231.1,424.1 231.2,424.0 232.1,422.6 232.4,422.3 232.8,422.3 233.0,422.5 233.3,423.1 234.2,426.2 235.2,432.5" fill="none" stroke="#84ec34" stroke-width="2.3" stroke-dasharray="14.4 3.6 2.2 3.6"/><polyline points="362.6,422.0 362.9,421.5 363.1,420.8 364.3,412.5 365.4,409.6 366.1,406.6 366.8,402.2 367.5,395.9 368.2,386.7 368.7,377.4 370.4,334.0 370.8,327.4 371.1,324.6 371.3,325.3 371.5,327.5 371.8,336.9 373.2,405.7 373.6,417.9 374.1,428.7 374.4,432.1 374.8,433.6 374.9,433.9 375.3,433.9 376.2,433.0 376.5,432.9 376.9,433.1 377.2,433.6 377.7,435.0 378.1,436.5 378.8,440.6 380.0,452.5 381.9,481.6 382.6,488.9 382.8,489.5 383.0,489.5 383.1,488.8 383.6,482.0 385.2,440.3 385.9,427.6 386.3,423.9 386.6,421.7 387.0,420.6 387.1,420.4 387.5,420.4 388.0,421.2 388.5,422.5 389.9,427.3 391.0,432.6 391.8,439.1 392.5,446.4 393.2,456.1 395.1,491.5 395.7,496.7 395.8,496.9 396.0,496.1 396.4,491.6 396.7,483.1 397.9,440.1 398.4,426.4 399.1,416.7 399.7,414.1 399.8,413.7 400.2,413.6 400.7,414.2 402.4,417.1 404.5,419.2 404.9,421.4 405.4,431.2 406.1,449.9 408.2,489.8 408.7,497.1 408.9,498.2 409.1,498.4 409.4,495.9 409.8,489.0 411.3,433.5 411.7,424.8 412.2,416.7 412.7,413.1 412.9,412.6 413.2,412.2 413.8,412.5 415.1,414.7 416.0,415.4 416.5,415.5 417.2,415.3 417.9,414.8 418.4,414.2 419.3,412.6 420.0,410.5 420.7,407.5 421.2,404.2 422.1,396.2 423.0,383.3 423.8,363.4 425.1,327.9 425.4,320.8 425.6,319.0 425.8,318.7 426.1,323.6 426.3,329.0 427.7,407.0 428.0,421.3 428.5,433.7 428.9,437.5 429.2,439.0 429.4,439.3 429.6,439.3 430.5,438.4 430.8,438.2 431.3,438.6 431.8,439.9 432.2,441.3 432.9,445.4 433.6,452.0 434.8,474.4 435.3,480.1" fill="none" stroke="#84ec34" stroke-width="2.3" stroke-dasharray="14.4 3.6 2.2 3.6"/><polyline points="435.8,483.2 436.0,483.5 436.2,483.3 436.4,482.7 436.9,477.7 438.6,443.4 439.3,433.2 440.0,427.8 440.4,426.5 440.5,426.2 440.9,426.0 441.2,426.2 441.8,427.3 442.6,430.2 443.5,434.3 444.4,439.8 445.1,445.7 445.8,453.2 448.0,483.7 448.6,487.3 448.7,487.6 448.9,487.4 449.2,485.1 449.8,477.1 451.2,443.4 451.9,430.9 452.2,427.0 452.7,423.5 453.1,422.4 453.2,422.2 453.6,422.1 454.1,422.8 454.6,424.0 456.0,428.9 457.1,434.3 457.9,440.7 458.6,447.6 459.3,456.5 461.3,487.7 461.8,493.0 461.9,493.7 462.1,493.7 462.5,491.3 463.0,481.8 464.4,440.3 465.1,425.7 465.4,421.3 465.8,418.6 466.3,416.7 466.5,416.5 466.8,416.5 467.5,417.5 468.4,419.4 470.0,423.3 470.8,425.9 472.0,431.2 473.1,438.5 474.0,447.8 474.7,458.2 476.9,507.7 477.3,512.9 477.4,514.4 477.6,514.9 477.8,514.0 478.0,511.4 478.3,501.0 479.5,438.0 479.9,424.3 480.4,411.9 480.7,407.9 481.1,406.1 481.3,405.8 481.6,405.8 482.7,406.8 483.2,407.0 483.7,406.8 484.0,406.3 484.6,405.1 485.1,403.2 486.1,397.2 486.8,391.1 487.5,382.9 489.8,344.1 490.1,339.9 490.5,338.1 490.7,338.3 490.8,338.9 491.0,339.9 491.5,345.6 493.3,381.0 494.0,392.7 494.5,398.5 495.0,402.0 495.5,403.8 495.9,404.4 496.2,404.6 496.4,407.3 496.7,419.5" fill="none" stroke="#84ec34" stroke-width="2.3" stroke-dasharray="14.4 3.6 2.2 3.6"/><polyline points="61.8,387.2 62.8,392.7 63.3,394.0 63.5,394.0 63.8,393.5 64.5,390.3 65.1,386.0 65.8,377.9 67.7,348.2 68.0,345.1 68.2,344.3 68.4,344.3 68.7,346.4 69.2,355.5 70.6,395.4 71.3,408.7 71.8,413.8 72.4,415.9 72.7,416.1 73.1,415.9 73.9,414.1 75.3,409.7 76.4,405.1 77.2,399.5 77.9,393.2 79.2,376.3 80.9,341.7 81.2,337.2 81.4,336.1 81.6,335.8 81.9,338.5 82.3,345.6 83.8,402.5 84.2,411.3 84.7,419.5 85.1,422.2 85.2,423.0 85.6,423.8 85.8,423.9 86.1,423.7 87.3,421.9 88.2,421.2 88.5,421.2 89.1,421.3 89.9,422.2 90.6,423.6 91.3,425.7 92.0,428.8 92.5,432.1 93.4,440.2 94.3,453.0 95.0,467.7 96.4,504.5 96.9,511.8 97.1,511.7 97.2,510.1 97.6,501.7 99.0,431.2 99.3,418.0 99.9,406.1 100.2,402.2 100.6,400.5 100.9,400.1 101.2,400.2 102.1,401.0 102.5,401.0 102.8,400.7 103.3,399.5 103.7,398.2 104.4,394.3 105.1,388.6 105.6,383.1 107.5,355.5 108.2,348.3 108.4,347.5 108.6,347.4 108.7,347.9 109.3,353.5 110.8,392.3 111.5,405.1 112.2,411.5 112.6,412.8 112.7,413.1 113.1,413.2 113.6,412.5 114.1,411.2 115.3,406.7 116.2,402.2 117.1,395.9 117.8,388.9 118.5,379.8 120.4,346.8 120.9,341.7 121.1,341.3 121.3,341.6 121.6,345.1 122.0,352.1 123.2,391.0 123.9,408.0 124.6,416.4 125.1,418.6 125.3,418.8 125.6,418.8 126.3,417.8 127.7,414.6 128.7,411.9 129.4,409.7 130.5,404.9 131.3,398.6 132.0,391.1 132.7,380.7 134.7,337.8 135.0,331.8 135.4,329.2 135.5,329.6 135.7,331.4 136.0,339.3 137.4,400.6 137.8,412.4 138.3,423.6 138.7,427.4 138.8,428.5 139.2,429.6 139.5,429.9 140.7,428.7 141.3,428.6 141.8,429.1 142.3,430.3 143.2,433.9 143.9,438.6 144.6,445.2 145.3,454.2 147.2,489.1 147.7,495.4 147.9,496.3 148.1,496.3 148.2,495.3 148.8,486.5 150.1,439.3 150.8,423.0 151.2,418.4 151.5,415.8 151.7,415.0 152.1,414.2 152.2,414.1 152.6,414.3 154.5,417.5 156.8,420.7 157.8,422.9 158.5,425.0 159.0,427.3 160.1,434.2 160.9,444.0 161.6,455.8 162.3,472.0 163.5,506.3 163.9,512.9 164.1,514.5 164.2,514.6 164.6,509.6 164.8,504.3 166.1,429.2 166.5,415.4 167.0,403.3 167.4,399.5 167.7,397.9 168.1,397.6 169.1,398.5 169.5,398.6 169.8,398.3 170.5,396.5 171.2,393.1 171.9,387.8 172.4,382.7 174.3,357.9 175.0,351.7 175.2,351.0 175.4,350.9 175.5,351.3 176.1,356.0 177.8,393.0 178.5,403.6 178.9,406.7 179.2,408.7 179.5,409.7 179.9,409.9 180.2,409.6 180.8,408.5 181.6,405.4 182.5,401.0 183.4,394.8 184.1,388.3 184.8,379.9 186.7,351.2 187.2,346.9 187.4,346.5 187.6,346.8 187.9,349.4 188.2,354.9 189.6,391.4 190.3,405.1 191.0,412.0 191.4,413.5 191.6,413.8 191.9,414.0 192.4,413.4 192.9,412.2 194.3,407.3 195.4,401.8 196.3,395.1 196.9,387.7 197.6,378.0 199.6,344.0 199.9,340.6 200.1,339.9 200.3,340.0 200.6,343.1 200.9,350.0 202.3,395.8 202.9,408.5 203.6,417.5 204.1,419.8 204.3,420.1 204.6,420.2 205.3,419.2 207.9,414.1 209.1,411.2 209.8,408.7 210.3,406.2 211.2,400.1 212.1,390.4 212.8,379.0 214.7,332.1 215.2,324.9 215.4,324.9 215.6,326.4 215.9,334.3 217.3,402.3 217.7,415.4 218.2,427.4 218.5,431.4 218.9,433.3 219.2,433.8 219.6,433.7 220.3,433.0 220.6,432.8 221.0,432.9 221.3,433.3 221.8,434.6 222.2,436.0 222.9,439.9 223.6,445.6 224.1,451.3 226.2,482.8 226.5,487.0 226.9,489.4 227.0,489.8 227.2,489.4 227.4,488.4 227.9,480.6 229.3,442.6 230.0,428.7 230.4,424.6 230.7,422.0 231.1,420.7 231.2,420.3 231.6,420.2 232.1,420.8 232.6,422.1 234.2,427.5 235.2,432.8 236.1,439.4 236.8,446.9 237.5,456.8 239.4,492.3 239.8,496.2 239.9,497.1 240.1,497.1 240.4,494.1 240.8,487.0 242.2,438.7 242.7,425.3 243.1,419.6 243.6,414.9 243.8,414.2 244.1,413.4 244.3,413.3 244.6,413.5 246.7,416.8 247.6,417.6 250.0,419.4 250.7,420.2 251.4,421.4 252.1,423.1 252.8,425.6 253.8,431.9 254.7,441.1 255.6,456.0 256.3,473.6 257.5,511.8 258.0,520.6 258.2,520.4 258.4,518.1 258.7,507.0 260.1,421.5 260.5,407.6 261.0,396.4 261.3,393.3 261.7,392.3 261.9,392.2 262.0,392.3 262.9,393.4 263.2,393.5 263.4,393.4 263.8,392.8 264.1,391.9 264.6,389.7 265.2,386.5 265.9,380.9 267.8,361.7 268.3,358.4 268.6,357.7 268.8,357.9 269.0,358.4 269.2,359.3 269.7,364.5 271.1,387.0 271.8,396.2 272.5,401.5 272.8,402.8 273.0,403.2 273.3,403.5 273.5,403.4 273.9,402.9 274.6,400.9 275.2,397.7 275.9,393.4 277.2,383.0 279.2,359.5 279.8,356.0 279.9,355.4 280.1,355.3 280.3,355.6 280.6,357.6 281.2,363.9 282.6,389.5 283.3,399.1 283.9,404.2 284.3,405.3 284.5,405.6 284.8,405.7 285.2,405.3 285.5,404.6 286.2,402.1 286.9,398.6 287.6,394.0 288.8,382.7 290.9,356.7 291.4,352.9 291.6,352.4 291.8,352.4 292.1,353.9 292.6,360.2 294.0,389.2 294.7,400.5 295.4,406.6 295.8,408.0 296.0,408.3 296.3,408.6 296.6,408.3 297.0,407.6 297.9,404.6 298.7,400.2 299.6,394.2 300.8,381.7 302.9,352.5 303.3,349.6 303.4,348.7 303.6,348.5 303.8,348.8 304.0,349.8 304.5,356.6 305.9,390.6 306.6,403.5 307.3,410.1 307.6,411.6 307.8,412.0 308.1,412.2 308.5,411.9 309.0,410.8 310.2,406.5 311.1,402.0 312.0,395.8 312.7,389.1 313.4,380.3 315.4,346.5 315.8,343.5 316.0,343.0 316.1,343.2 316.5,346.0 316.8,352.3 318.2,393.7 318.7,405.6 319.4,414.4 320.0,416.9 320.1,417.2 320.5,417.3 321.0,416.7 321.9,414.7 322.9,411.7 323.8,408.7 324.8,403.5 325.7,396.9 326.4,389.2 327.1,378.7 329.0,339.0 329.4,334.4 329.5,333.3 329.7,333.3 330.1,336.7 330.4,345.0 331.8,400.6 332.1,410.9 332.7,420.7 333.0,424.0 333.5,426.1 333.7,426.2 334.1,426.2 335.1,424.9 335.8,424.4 336.1,424.5 336.5,424.7 337.2,425.9 337.7,427.3 338.2,429.4 339.1,434.6 340.0,442.8 340.7,452.4 341.4,465.2 342.8,496.6 343.1,502.1 343.3,503.6 343.5,504.1 343.6,503.4 343.8,501.5 344.2,493.5 345.5,435.0 345.9,423.8 346.4,413.2 346.8,409.5 347.3,407.3 347.5,407.1 347.8,407.1 348.8,408.3 349.4,408.5 349.7,408.4 350.1,408.1 350.6,407.0 351.5,403.9 352.3,398.4 353.0,392.0 353.7,383.0 354.4,371.0 355.8,342.6 356.2,337.6 356.5,335.4 356.7,335.8 356.9,337.3 357.2,343.6 358.8,400.8 359.1,410.2 359.6,419.1 360.2,423.1 360.3,423.7 360.7,424.2 361.0,424.1 362.4,422.2 363.1,421.7 363.5,421.7 364.0,421.9 364.9,422.9 365.6,424.5 366.2,427.0 367.3,433.0 368.2,441.3 369.0,454.5 369.7,469.4 370.9,501.2 371.3,507.8 371.6,510.6 371.8,509.9 372.0,507.7 372.3,498.3 373.7,429.5 374.1,417.3 374.6,406.5 374.9,403.1 375.3,401.6 375.5,401.3 375.8,401.3 376.7,402.2 377.0,402.3 377.4,402.1 377.7,401.6 378.3,400.2 378.6,398.7 379.3,394.6 380.5,382.7 382.4,353.6 383.1,346.3 383.3,345.7 383.5,345.7 383.6,346.4 384.2,353.2 385.7,394.9 386.4,407.6 386.8,411.3 387.1,413.5 387.5,414.6 387.7,414.8 388.0,414.8 388.5,414.0 389.0,412.7 390.4,407.9 391.5,402.6 392.3,396.1 393.0,388.8 393.7,379.1 395.7,343.7 396.2,338.5 396.4,338.3 396.5,339.1 396.9,343.6 397.2,352.1 398.4,395.1 399.0,408.8 399.3,414.8 399.8,419.7 400.0,420.6 400.4,421.5 400.5,421.6 400.9,421.5 402.8,418.3 403.5,417.5 405.7,415.2 407.0,413.1 407.7,411.2 408.2,409.1 409.2,402.7 410.1,393.5 411.0,378.7 411.7,361.6 412.9,325.2 413.2,318.6 413.4,317.2 413.6,317.6 413.8,319.8 414.1,330.4 415.5,411.4 415.8,424.9 416.4,436.1 416.7,439.3 417.1,440.4 417.2,440.6 417.4,440.5 418.4,439.5 418.8,439.6 419.0,439.7 419.7,441.5 420.2,443.9 420.7,447.4 421.4,453.5 423.5,476.8 423.8,479.3 424.2,480.4 424.4,480.4 424.5,479.9 424.7,479.0 425.2,473.3 426.6,447.3 427.3,436.9 428.0,431.0 428.4,429.6 428.5,429.2 428.9,428.9 429.2,429.2 429.6,429.8 430.3,432.1 431.2,436.4 431.8,441.1 433.1,452.5 435.2,479.1 435.7,483.0 435.8,483.5 436.0,483.5 436.2,483.0 436.5,480.2 436.9,475.3 438.3,445.3 439.0,433.9 439.7,427.8 440.0,426.5 440.2,426.2 440.5,426.0 440.9,426.3 441.2,427.0 442.1,429.9 443.0,434.3 443.9,440.2 444.5,446.6 445.2,454.8 447.2,482.6 447.7,487.1 447.9,487.7 448.0,487.6 448.4,485.4 448.9,477.1 450.1,445.6 450.8,431.7 451.5,424.5 452.0,422.4 452.2,422.2 452.6,422.1 453.1,422.9 453.6,424.3 454.8,428.9 455.7,433.5 456.6,440.1 457.3,447.2 457.9,456.6 459.9,489.3 460.2,492.8 460.4,493.6 460.6,493.7 460.9,491.2 461.3,485.1 462.6,441.9 463.3,426.0 463.7,421.3 464.0,418.5 464.4,417.0 464.6,416.6 464.9,416.5 465.4,417.1 466.1,418.5 467.7,422.3 468.6,424.9 469.8,430.3 470.6,436.5 471.5,446.2 472.2,457.4 474.1,500.1 474.5,504.7 474.7,505.6 474.8,505.2 475.2,500.5 475.5,490.3 476.7,435.6 477.1,423.7 477.6,412.3 478.0,408.4 478.5,406.0 478.7,405.8 479.0,405.8 479.9,406.8 480.4,407.0 480.9,406.8 481.3,406.3 481.8,405.0 482.3,403.0 483.2,397.8 483.9,391.4 484.6,382.7 486.7,344.7 487.0,340.1 487.4,338.1 487.5,338.4 487.7,339.7 488.0,345.5 489.8,403.1 490.1,410.9 490.7,418.1 491.2,421.1 491.4,421.5 491.7,421.8 492.2,421.3 493.4,419.2 494.1,418.2 495.0,417.4 496.7,416.0" fill="none" stroke="#000" stroke-width="2.5" stroke-linejoin="round"/><polyline points="61.8,389.0 62.4,392.7 63.0,394.0 63.1,394.0 63.5,393.5 64.2,390.3 64.7,386.0 65.4,377.9 67.3,348.2 67.7,345.1 67.8,344.3 68.0,344.3 68.4,346.4 68.7,351.7 70.3,395.4 70.6,403.1 71.1,410.8 71.7,414.8 71.8,415.4 72.2,416.1 72.5,416.1 72.9,415.6 73.8,413.6 75.0,409.7 76.0,405.1 76.9,399.5 77.6,393.2 78.8,376.3 80.5,341.7 80.9,337.2 81.1,336.1 81.2,335.8 81.6,338.5 81.9,345.6 83.5,402.5 83.8,411.3 84.4,419.5 84.7,422.2 84.9,423.0 85.2,423.8 85.4,423.9 85.8,423.7 87.0,421.9 87.8,421.2 88.2,421.2 88.7,421.3 89.6,422.2 90.3,423.6 91.0,425.7 91.7,428.8 92.2,432.1 93.1,440.2 93.9,453.0 94.6,467.7 96.0,504.5 96.4,510.4 96.5,511.8 96.7,511.7 97.1,506.8 97.4,495.0 98.8,424.1 99.3,409.1 99.9,402.2 100.0,401.2 100.4,400.2 100.7,400.1 101.6,400.9 101.9,401.1 102.3,400.9 102.6,400.4 103.3,398.2 104.0,394.3 104.7,388.6 105.4,381.0 107.5,351.2 107.9,348.3 108.0,347.5 108.2,347.4 108.6,350.0 108.9,356.6 110.3,400.7 111.0,413.6 111.3,416.5 111.5,417.3 111.9,418.0 112.2,417.9 112.7,417.2 113.9,413.9 115.2,409.1 116.2,403.6 117.1,397.5 118.0,389.5 119.3,371.4 121.6,332.7 122.1,327.3 122.5,325.9 122.6,327.4 123.0,339.0 123.9,393.4 124.2,408.1 124.6,415.9 124.9,418.6 125.1,418.9 125.3,418.8 126.0,417.8 127.5,414.2 127.7,414.0 127.9,414.3 128.2,416.2 128.9,423.0 129.8,427.0 130.5,431.5 131.2,438.1 131.9,447.7 133.4,480.5 134.0,488.4 134.1,489.3 134.3,489.0 134.5,487.9 135.0,480.1 136.6,432.2 137.3,416.5 137.6,411.7 138.1,407.4 138.7,405.7 139.0,405.4 139.4,405.4 140.1,406.2 140.2,407.0 141.6,428.2 141.8,429.1 142.5,430.9 143.2,433.9 143.9,438.6 144.4,443.3 145.6,459.8 147.4,491.7 147.7,495.4 147.9,496.3 148.1,496.3 148.4,493.4 148.8,486.5 150.3,434.3 150.7,426.1 151.2,418.4 151.7,415.0 151.9,414.5 152.2,414.1 152.8,414.5 154.1,417.0 155.2,418.6 155.4,418.7 155.5,418.7 155.7,418.4 156.1,417.4 156.8,414.1 157.6,411.9 158.3,409.5 159.0,406.1 159.5,402.5 160.4,393.6 161.1,382.8 162.0,363.2 163.2,328.9 163.5,322.3 163.7,320.7 163.9,320.6 164.2,325.6 164.4,330.9 165.8,406.0 166.1,419.8 166.7,431.9 167.0,435.7 167.4,437.3 167.7,437.6 168.8,436.7 169.1,436.6 169.5,436.9 170.2,438.7 170.8,442.1 171.5,447.4 172.1,452.5 174.0,477.3 174.7,483.5 174.8,484.2 175.0,484.3 175.2,483.9 175.7,479.2 177.5,442.2 178.2,431.6 178.5,428.5 178.9,426.5 179.2,425.5 179.5,425.3 179.9,425.6 180.4,426.7 181.3,429.8 182.2,434.2 183.0,440.4 183.7,446.9 184.4,455.3 186.3,484.0 186.9,488.3 187.0,488.7 187.2,488.4 187.6,485.8 187.9,480.3 189.3,443.8 190.0,430.1 190.7,423.2 191.0,421.7 191.2,421.4 191.6,421.2 192.1,421.8 192.6,423.0 194.0,427.9 195.0,433.4 195.9,440.1 196.6,447.5 197.3,457.2 199.2,491.2 199.6,494.6 199.7,495.3 199.9,495.2 200.3,492.1 200.6,485.2 202.0,439.4 202.5,426.7 203.2,417.7 203.7,415.4 203.9,415.1 204.3,415.0 205.0,416.0 207.6,421.1 208.8,424.0 209.5,426.5 210.0,429.0 210.9,435.1 211.6,442.5 212.3,453.0 213.0,467.4 214.3,503.1 214.7,508.9 214.9,510.3 215.0,510.3 215.4,505.7 215.7,494.6 217.0,432.9 217.3,419.8 217.8,407.8 218.2,403.8 218.5,401.9 218.9,401.4 219.2,401.5 219.9,402.2 220.3,402.4 220.6,402.3 221.0,401.9 221.5,400.6 221.8,399.2 222.5,395.3 223.2,389.6 223.9,381.7 225.8,352.4 226.4,346.7 226.7,345.4 226.9,345.8 227.4,351.3 229.0,392.6 229.7,406.5 230.0,410.6 230.4,413.2 230.7,414.5 230.9,414.9 231.2,415.0 231.7,414.4 232.3,413.1 233.8,407.7 234.9,402.4 235.8,395.8 236.4,388.3 237.1,378.4 239.1,342.9 239.4,339.0 239.6,338.1 239.8,338.1 240.1,341.1 240.4,348.2 242.0,401.6 242.4,409.9 242.9,417.6 243.4,421.0 243.6,421.5 243.9,421.9 244.4,421.5 245.7,419.4 246.5,418.2 247.9,417.1 248.3,417.1 248.8,418.5 249.5,421.6 250.7,425.6 251.8,431.9 252.6,441.1 253.5,456.0 254.2,473.6 255.4,511.8 255.9,520.6 256.1,520.4 256.3,518.1 256.6,507.0 258.0,421.5 258.4,407.6 258.9,396.4 259.2,393.3 259.6,392.3 259.8,392.2 259.9,392.3 260.8,393.4 261.2,393.5 261.3,393.4 261.7,392.8 262.0,391.9 262.9,388.0 263.1,387.6 263.2,387.6 263.8,387.9 264.1,387.2 264.8,379.9 266.7,351.2 267.1,347.9 267.4,346.5 267.6,346.8 267.8,347.7 268.3,354.9 269.7,391.4 270.4,405.1 271.1,412.0 271.4,413.5 271.6,413.8 271.9,414.0 272.5,413.4 273.0,412.2 274.4,407.3 275.4,401.8 276.3,395.1 277.0,387.7 277.7,378.0 279.6,344.0 279.9,340.6 280.1,339.9 280.3,340.0 280.6,343.1 281.0,350.0 282.4,395.8 282.9,408.5 283.6,417.5 284.1,419.8 284.3,420.1 284.6,420.2 285.3,419.2 287.9,414.1 289.2,411.2 289.9,408.7 290.4,406.2 291.3,400.1 292.0,392.7 292.6,382.2 293.3,367.8 294.7,332.1 295.1,326.3 295.3,324.9 295.4,324.9 295.8,329.5 296.1,340.6 297.3,402.3 297.7,415.4 298.2,427.4 298.6,431.4 298.9,433.3 299.3,433.8 299.4,433.7 300.3,430.4 300.7,429.8 300.8,429.9 301.7,432.8 302.6,437.5 303.3,442.4 304.0,448.8 306.2,477.2 306.9,483.0 307.1,483.5 307.3,483.5 307.4,483.0 308.0,478.0 309.5,445.3 310.2,433.9 310.9,427.8 311.3,426.5 311.4,426.2 311.8,426.0 312.1,426.3 312.5,427.0 313.4,429.9 314.2,434.3 315.1,440.2 315.8,446.6 316.5,454.8 318.4,482.6 318.9,487.1 319.1,487.7 319.3,487.6 319.6,485.4 320.1,477.1 321.4,445.6 322.1,431.7 322.8,424.5 323.3,422.4 323.4,422.2 323.8,422.1 324.3,422.9 324.8,424.3 326.1,428.9 326.9,433.5 327.8,440.1 328.5,447.2 329.2,456.6 331.1,489.3 331.4,492.8 331.6,493.6 331.8,493.7 332.1,491.2 332.5,485.1 333.9,441.9 334.6,426.0 334.9,421.3 335.3,418.5 335.6,417.0 335.8,416.6 336.1,416.5 336.5,416.8 336.8,417.4 338.2,420.6 339.3,423.3 340.1,426.1 340.8,429.3 341.4,432.5 342.2,439.9 342.9,449.7 344.0,495.9 344.3,502.7 344.5,501.5 344.8,493.5 346.2,435.0 346.6,423.8 347.1,413.2 347.5,409.5 348.0,407.3 348.2,407.1 348.5,407.1 349.5,408.3 350.1,408.5 350.4,408.4 350.8,408.1 351.3,407.0 352.2,403.9 353.0,398.4 353.7,392.0 354.4,383.0 355.1,371.0 356.5,342.6 356.9,337.6 357.2,335.4 357.4,335.8 357.5,337.3 357.9,343.6 359.5,400.8 359.8,410.2 360.3,419.1 360.9,423.1 361.0,423.7 361.4,424.2 361.7,424.1 363.1,422.2 363.8,421.7 364.2,421.7 364.7,421.9 365.6,422.9 366.2,424.5 366.9,427.0 368.0,433.0 368.9,441.3 369.7,454.5 370.4,469.4 371.6,501.2 372.0,507.8 372.3,510.6 372.5,509.9 372.7,507.7 373.0,498.3 374.6,422.8 375.1,409.2 375.6,403.1 375.8,402.2 376.2,401.3 376.5,401.3 377.4,402.2 377.7,402.3 378.1,402.1 378.4,401.6 379.1,399.5 379.8,395.8 380.5,390.3 381.2,382.7 383.5,349.2 383.8,346.3 384.0,345.7 384.2,345.7 384.5,347.9 384.9,353.2 386.4,394.9 386.8,402.2 387.3,409.7 387.8,413.5 388.0,414.2 388.3,414.8 388.7,414.8 389.0,414.4 389.9,412.2 391.1,407.9 392.0,403.6 392.7,399.0 393.4,392.7 394.6,376.2 396.4,343.7 396.7,339.6 396.9,338.5 397.0,338.3 397.4,340.8 397.7,347.4 399.3,400.3 399.7,408.8 400.2,416.9 400.7,420.6 400.9,421.1 401.2,421.6 401.4,421.6 401.7,421.3 403.1,418.9 404.0,417.7 404.4,417.6 404.7,417.9 405.4,419.5 406.8,421.7 407.5,423.5 408.4,426.9 409.1,431.1 409.9,439.5 410.8,452.9 411.5,468.9 412.9,510.0 413.2,516.6 413.4,518.0 413.6,517.6 413.8,515.4 414.1,504.8 415.5,423.8 415.8,410.3 416.4,399.1 416.7,395.9 417.1,394.8 417.2,394.6 417.4,394.7 418.4,395.7 418.8,395.6 419.0,395.5 419.7,393.7 420.2,391.3 421.2,383.4 423.3,360.1 424.0,355.2 424.2,354.8 424.4,354.8 424.5,355.3 425.1,359.5 427.0,393.7 427.3,398.3 427.8,403.1 428.2,405.0 428.5,406.0 428.9,406.3 429.4,405.8 429.9,404.4 430.5,402.4 431.7,396.0 431.8,396.4 432.0,397.8 432.9,411.0 433.1,412.8 433.2,413.3 434.5,409.8 435.3,405.9 436.2,399.9 436.9,392.7 437.6,382.6 438.1,372.7 439.7,335.0 440.0,329.3 440.2,327.8 440.4,327.5 440.7,331.0 441.1,340.6 442.5,405.1 442.8,416.3 443.3,426.4 443.7,429.7 443.9,430.5 444.2,431.4 444.5,431.4 445.4,430.5 445.9,430.3 446.5,430.7 446.8,431.4 447.7,434.5 448.4,438.8 449.1,444.9 449.8,453.3 451.7,485.8 452.2,492.2 452.4,493.3 452.6,493.6 452.7,493.1 453.2,486.4 454.8,438.9 455.5,424.5 455.9,420.4 456.2,418.1 456.6,416.9 456.7,416.7 457.1,416.7 457.8,417.8 458.8,420.2 459.9,422.9 460.7,425.6 461.8,430.4 462.6,436.7 463.3,444.2 464.0,454.5 466.0,496.7 466.3,502.6 466.6,505.1 466.8,504.7 467.0,503.0 467.3,495.4 468.7,435.5 469.1,423.8 469.6,412.6 470.0,408.8 470.5,406.4 470.6,406.2 471.0,406.2 471.9,407.2 472.4,407.5 472.9,407.3 473.3,406.8 473.8,405.6 474.3,403.7 475.2,398.7 475.9,392.6 476.6,384.2 477.3,373.0 478.8,342.9 479.2,338.6 479.3,337.6 479.5,337.4 479.9,340.0 480.2,346.8 481.8,401.2 482.1,409.8 482.7,417.9 483.2,421.5 483.4,422.1 483.7,422.5 484.2,422.1 485.8,419.7 486.8,418.8 487.5,418.6 488.4,418.6 489.3,419.0 490.0,419.6 490.8,420.8 491.7,422.8 492.4,425.4 493.1,429.3 493.8,435.2 494.3,441.5 495.2,457.3 495.9,476.7 496.7,511.1" fill="none" stroke="#12128c" stroke-width="2.4" stroke-dasharray="2.3 3.5"/></g>
<line x1="126.7" y1="304.8" x2="126.7" y2="530.5" stroke="#b02424" stroke-width="1.6" stroke-dasharray="2.7 2.0"/>
<line x1="155.8" y1="304.8" x2="155.8" y2="530.5" stroke="#b02424" stroke-width="1.6" stroke-dasharray="2.7 2.0"/>
<line x1="59.9" y1="304.8" x2="59.9" y2="530.5" stroke="#000" stroke-width="1.5"/>
<line x1="67.89999999999999" y1="336.9" x2="116.80000000000001" y2="336.9" stroke="#000" stroke-width="1.5"/><polygon points="60.3,336.9 68.89999999999999,333.79999999999995 68.89999999999999,340.0" fill="#000"/><polygon points="124.4,336.9 115.80000000000001,333.79999999999995 115.80000000000001,340.0" fill="#000"/>
<line x1="67.89999999999999" y1="523.5" x2="147.1" y2="523.5" stroke="#000" stroke-width="1.5"/><polygon points="60.3,523.5 68.89999999999999,520.4 68.89999999999999,526.6" fill="#000"/><polygon points="154.7,523.5 146.1,520.4 146.1,526.6" fill="#000"/>
<text x="97.9" y="318.7" text-anchor="middle" font-family="'Liberation Serif','Times New Roman',serif" font-size="12.9" fill="#1a1a1a">Multi-step</text>
<text x="97.3" y="333.7" text-anchor="middle" font-family="'Liberation Serif','Times New Roman',serif" font-size="12.9" fill="#1a1a1a">DNN</text>
<text x="110.3" y="521.3" text-anchor="middle" font-family="'Liberation Serif','Times New Roman',serif" font-size="12.9" fill="#1a1a1a">Ours</text>
<text x="269.2" y="520.4" text-anchor="middle" font-family="'Liberation Serif','Times New Roman',serif" font-size="14.3" fill="#1a1a1a">(b)</text>
<rect x="412.7" y="309.7" width="100.90000000000003" height="43.0" rx="2" fill="#fff" fill-opacity="0.8" stroke="#d0d0d0" stroke-width="0.8"/>
<line x1="415.7" y1="317.3" x2="437.2" y2="317.3" stroke="#84ec34" stroke-width="2.3" stroke-dasharray="14.4 3.6 2.2 3.6"/>
<text x="444.7" y="320.7" font-family="'Liberation Serif','Times New Roman',serif" font-weight="bold" font-size="9.6" fill="#000">Ours_y</text>
<line x1="415.7" y1="330.5" x2="437.2" y2="330.5" stroke="#000" stroke-width="2.5"/>
<text x="444.7" y="333.9" font-family="'Liberation Serif','Times New Roman',serif" font-weight="bold" font-size="9.6" fill="#000">Exact</text>
<line x1="415.7" y1="343.9" x2="437.2" y2="343.9" stroke="#12128c" stroke-width="2.4" stroke-dasharray="2.3 3.5"/>
<text x="444.7" y="347.29999999999995" font-family="'Liberation Serif','Times New Roman',serif" font-weight="bold" font-size="9.6" fill="#000">Multi-step DNN</text>
<rect x="40" y="304.8" width="477.5" height="225.7" fill="none" stroke="#262626" stroke-width="1"/>
<line x1="61.75" y1="530.5" x2="61.75" y2="534.0" stroke="#262626" stroke-width="0.9"/>
<text x="61.75" y="545.1" text-anchor="middle" font-family="'Liberation Serif','Times New Roman',serif" font-weight="bold" font-size="10.4" fill="#000">0</text>
<line x1="148.75" y1="530.5" x2="148.75" y2="534.0" stroke="#262626" stroke-width="0.9"/>
<text x="148.75" y="545.1" text-anchor="middle" font-family="'Liberation Serif','Times New Roman',serif" font-weight="bold" font-size="10.4" fill="#000">5</text>
<line x1="235.75" y1="530.5" x2="235.75" y2="534.0" stroke="#262626" stroke-width="0.9"/>
<text x="235.75" y="545.1" text-anchor="middle" font-family="'Liberation Serif','Times New Roman',serif" font-weight="bold" font-size="10.4" fill="#000">10</text>
<line x1="322.75" y1="530.5" x2="322.75" y2="534.0" stroke="#262626" stroke-width="0.9"/>
<text x="322.75" y="545.1" text-anchor="middle" font-family="'Liberation Serif','Times New Roman',serif" font-weight="bold" font-size="10.4" fill="#000">15</text>
<line x1="409.75" y1="530.5" x2="409.75" y2="534.0" stroke="#262626" stroke-width="0.9"/>
<text x="409.75" y="545.1" text-anchor="middle" font-family="'Liberation Serif','Times New Roman',serif" font-weight="bold" font-size="10.4" fill="#000">20</text>
<line x1="496.75" y1="530.5" x2="496.75" y2="534.0" stroke="#262626" stroke-width="0.9"/>
<text x="496.75" y="545.1" text-anchor="middle" font-family="'Liberation Serif','Times New Roman',serif" font-weight="bold" font-size="10.4" fill="#000">25</text>
<line x1="36.5" y1="504.48" x2="40" y2="504.48" stroke="#262626" stroke-width="0.9"/>
<text x="32.5" y="507.58" text-anchor="end" font-family="'Liberation Serif','Times New Roman',serif" font-weight="bold" font-size="10.4" fill="#000">−20</text>
<line x1="36.5" y1="461.04" x2="40" y2="461.04" stroke="#262626" stroke-width="0.9"/>
<text x="32.5" y="464.14" text-anchor="end" font-family="'Liberation Serif','Times New Roman',serif" font-weight="bold" font-size="10.4" fill="#000">−10</text>
<line x1="36.5" y1="417.60" x2="40" y2="417.60" stroke="#262626" stroke-width="0.9"/>
<text x="32.5" y="420.70" text-anchor="end" font-family="'Liberation Serif','Times New Roman',serif" font-weight="bold" font-size="10.4" fill="#000">0</text>
<line x1="36.5" y1="374.16" x2="40" y2="374.16" stroke="#262626" stroke-width="0.9"/>
<text x="32.5" y="377.26" text-anchor="end" font-family="'Liberation Serif','Times New Roman',serif" font-weight="bold" font-size="10.4" fill="#000">10</text>
<line x1="36.5" y1="330.72" x2="40" y2="330.72" stroke="#262626" stroke-width="0.9"/>
<text x="32.5" y="333.82" text-anchor="end" font-family="'Liberation Serif','Times New Roman',serif" font-weight="bold" font-size="10.4" fill="#000">20</text>
<text x="0" y="0" transform="translate(10.2,417.6) rotate(-90)" text-anchor="middle" font-family="'Liberation Serif','Times New Roman',serif" font-weight="bold" font-size="10.4" fill="#000">Y</text>
<text x="280" y="559.6" text-anchor="middle" font-family="'DejaVu Sans',sans-serif" font-style="italic" font-size="13.5" fill="#000">t</text>
<text x="279.25" y="299.3" text-anchor="middle" font-family="'Liberation Serif','Times New Roman',serif" font-weight="bold" font-size="12.9" fill="#000">Sequence Chart</text>
<clipPath id="clip2"><rect x="35.5" y="594.7" width="482.0" height="227.79999999999995"/></clipPath>
<g clip-path="url(#clip2)"><polyline points="157.5,784.0 158.1,781.5 158.6,775.1 159.3,756.9 160.0,722.5 161.2,643.4 161.6,631.0 161.8,628.2 161.9,627.4 162.1,628.6 162.5,635.4 163.9,677.9 165.1,704.6 166.0,718.2 166.8,728.7 167.7,736.1 168.1,738.0 168.4,739.2 168.6,739.5 168.8,739.5 169.0,739.3 169.3,738.1 169.8,733.7 170.2,729.0 170.9,714.7 172.5,672.1 173.0,664.0 173.3,662.2 173.5,662.3 173.7,663.0 174.2,668.2 176.9,711.8 177.7,723.9 178.6,734.0 179.3,740.3 180.0,744.6 180.4,745.7 180.5,746.0 180.7,746.0 181.1,745.2 181.2,744.4 181.8,739.7 182.3,731.2 183.0,713.2 184.4,668.2 184.9,658.9 185.3,657.0 185.5,657.3 185.6,658.4 186.2,664.8 188.6,710.2 190.4,735.1 191.3,744.5 192.1,751.7 192.8,755.0 193.2,755.6 193.4,755.6 193.5,755.2 193.9,753.6 194.2,750.5 194.9,738.2 195.6,716.4 197.1,661.1 197.4,653.0 197.6,650.7 197.8,649.5 197.9,649.4 198.3,652.1 198.6,657.7 200.4,695.7 201.4,715.0 202.5,731.2 203.6,744.8 204.1,750.0 205.1,754.9 206.7,765.9 207.1,767.4 207.4,768.2 207.6,768.4 207.8,768.3 207.9,768.0 208.5,765.1 208.8,761.1 209.5,745.9 210.2,718.7 211.5,656.7 212.0,641.7 212.2,639.8 212.3,639.3 212.5,640.2 212.9,645.2 214.8,692.3 216.2,718.2 217.1,731.0 218.1,743.8 219.0,752.4 219.9,758.8 220.6,761.6 220.8,761.9 220.9,762.0 221.3,761.3 221.8,757.8 222.3,750.3 223.2,725.2 224.8,656.5 225.1,647.7 225.5,644.3 225.7,644.5 225.9,645.7 226.2,650.8 228.0,691.0 229.2,713.1 230.6,732.0 232.0,746.4" fill="none" stroke="#84ec34" stroke-width="2.3" stroke-dasharray="14.4 3.6 2.2 3.6"/><polyline points="360.7,725.5 362.5,753.6 364.0,767.8 365.1,774.6 365.6,776.8 366.0,777.8 366.3,778.0 366.7,777.5 367.2,774.3 367.9,763.2 368.4,747.2 369.0,722.7 370.2,650.7 370.7,634.0 370.9,632.2 371.1,632.2 371.6,640.4 373.0,679.8 374.2,705.9 375.8,729.2 376.7,738.5 377.4,743.9 378.1,746.8 378.3,747.1 378.4,747.2 378.6,747.0 379.2,744.5 379.7,738.9 380.6,720.2 382.3,664.8 382.7,658.6 382.8,656.9 383.0,656.0 383.2,656.0 383.5,658.2 383.9,662.6 386.4,708.1 388.3,735.7 389.3,746.9 390.2,753.8 390.9,757.2 391.3,757.8 391.4,757.8 391.6,757.6 392.1,754.9 392.5,751.2 393.2,737.4 393.9,714.0 395.1,662.9 395.7,650.2 396.0,647.5 396.2,647.8 396.4,649.2 396.7,654.1 398.8,699.4 400.6,728.6 401.8,744.6 403.0,757.9 403.6,761.4 403.7,761.9 403.9,762.0 404.1,761.9 405.1,759.2 405.5,757.1 406.0,750.6 406.4,743.6 407.1,721.8 408.5,661.4 409.0,648.3 409.2,646.4 409.4,645.7 409.5,646.2 409.7,647.7 410.1,653.0 411.8,692.5 412.9,712.4 413.9,728.9 415.1,744.8 416.9,763.0 418.7,776.6 419.5,781.8 420.2,785.1 420.9,787.0 421.3,787.2 421.5,787.0 422.0,785.0 422.5,779.7 423.1,768.9 423.4,757.5 423.9,732.2 425.3,640.8 425.7,628.6 425.9,625.9 426.0,625.3 426.2,626.7 426.6,633.9 428.0,677.0 429.2,703.4 430.1,716.6 431.0,726.7 431.7,732.4 432.2,735.3 432.5,736.5 432.7,736.5 432.9,735.9 433.2,732.8 433.9,721.5 435.7,679.0 436.2,668.9 436.6,664.8 436.7,663.7 436.9,663.1 437.1,663.1 437.4,664.7 438.0,670.0 440.6,710.0 442.4,731.2 443.2,738.7 443.9,742.8 444.3,744.1 444.6,744.6 444.8,744.6 445.0,744.3 445.4,743.1 446.1,736.8 446.6,728.3 447.3,711.4 448.7,670.6 449.2,661.2 449.4,659.5 449.6,658.5 449.7,658.2 450.1,659.5 450.6,665.2 453.3,709.3 455.2,734.5 456.1,743.1 456.9,749.6 457.6,752.7 458.0,753.3 458.2,753.3 458.3,753.0 458.9,750.7 459.2,747.4 459.9,735.9 460.6,716.5 462.2,661.8 462.7,652.7 462.9,651.5 463.1,651.2 463.4,653.2 463.8,658.0 466.6,716.2 467.7,733.8 468.9,751.0 470.3,767.0 471.5,777.8 472.2,782.4 472.7,784.6 473.1,785.4 473.3,785.6 473.6,785.1 474.1,781.9 474.5,777.5 475.2,761.0 475.9,731.4 477.3,653.3 477.7,642.1 478.0,637.8 478.2,638.1 478.4,639.4 478.7,645.0 480.6,690.8 482.2,718.4 483.1,730.4 484.2,742.3 485.0,750.2 485.9,755.8 486.3,757.2 486.6,758.0 486.8,758.1 487.0,758.0 487.3,757.0 487.8,753.1 488.4,745.6 489.3,722.5 490.8,661.5 491.4,649.9 491.7,647.4 491.9,647.7 492.1,648.8 492.6,656.2 494.5,696.2 496.1,722.3" fill="none" stroke="#84ec34" stroke-width="2.3" stroke-dasharray="14.4 3.6 2.2 3.6"/><polyline points="57.1,699.4 58.0,721.5 59.0,736.9 59.7,743.6 60.4,747.7 60.8,748.6 61.0,748.7 61.3,748.2 61.5,747.4 61.8,744.9 62.2,740.7 62.7,730.9 64.8,663.9 65.2,657.3 65.4,655.4 65.5,654.5 65.7,654.4 66.1,656.7 66.4,661.3 68.9,708.0 70.8,736.1 71.9,747.7 72.9,756.6 73.4,759.6 73.8,760.9 74.1,761.5 74.3,761.4 74.5,761.1 75.0,758.4 75.4,754.5 76.1,740.1 76.8,715.2 78.0,660.5 78.5,647.1 78.7,645.2 78.9,644.6 79.0,645.2 79.2,646.8 79.6,652.4 81.2,688.8 82.2,709.5 83.3,726.4 84.3,740.7 85.7,756.3 87.3,769.9 88.0,774.5 88.7,778.1 89.2,779.7 89.6,780.1 89.8,780.0 90.1,779.0 90.3,778.1 90.8,772.8 91.5,757.2 92.2,727.5 93.4,652.9 93.8,638.2 94.2,631.1 94.3,630.5 94.5,631.6 94.9,637.8 96.6,686.6 98.0,713.3 98.9,725.6 99.8,735.2 100.6,741.9 101.0,743.6 101.4,744.5 101.5,744.6 101.7,744.5 101.9,744.1 102.2,742.5 102.8,737.4 103.1,731.9 103.8,715.6 105.4,667.9 105.9,659.5 106.1,658.4 106.3,658.0 106.4,658.4 106.6,659.4 107.1,665.7 109.6,709.6 110.7,725.1 111.5,735.9 112.4,744.8 113.3,751.0 113.6,752.6 114.0,753.4 114.2,753.5 114.3,753.4 114.7,752.3 115.0,749.8 115.4,745.7 115.9,735.8 116.6,714.8 118.0,662.4 118.6,652.4 118.7,651.1 118.9,650.9 119.3,653.2 119.6,658.2 122.1,707.5 123.1,724.5 124.2,738.8 125.4,752.5 126.6,763.3 127.7,769.6 128.2,771.1 128.4,771.2 128.6,771.2 128.9,770.3 129.1,769.4 129.4,766.3 130.0,757.9 130.3,749.0 131.0,721.3 132.3,656.3 132.8,639.9 133.0,637.7 133.1,637.1 133.3,638.0 133.7,643.1 135.4,687.7 136.8,714.8 138.6,738.9 139.5,747.8 140.2,753.1 140.9,756.4 141.2,757.0 141.4,757.0 141.6,756.7 142.1,753.8 142.6,747.2 143.5,725.1 145.1,662.1 145.6,650.2 145.8,648.6 146.0,648.1 146.3,650.1 146.7,655.2 148.4,693.2 149.5,712.8 150.5,729.1 151.6,742.9 153.2,759.8 154.7,772.8 156.1,781.2 156.8,783.7 157.2,784.3 157.4,784.3 157.7,783.8 157.9,783.2 158.4,779.1 158.9,770.5 159.3,761.0 160.0,730.1 161.4,642.1 161.8,630.5 161.9,627.9 162.1,627.4 162.3,628.7 162.6,635.5 164.0,677.4 165.3,703.9 166.0,715.1 166.8,726.2 167.7,734.3 168.4,738.4 168.8,739.4 169.0,739.5 169.1,739.5 169.3,739.2 169.5,738.6 170.0,735.0 170.4,730.9 171.2,713.7 172.8,671.8 173.3,664.0 173.7,662.2 173.9,662.3 174.0,663.0 174.6,668.0 177.2,710.9 179.0,733.1 179.7,739.6 180.4,744.1 180.7,745.5 181.1,746.0 181.2,746.0 181.4,745.7 181.6,745.1 182.0,743.0 182.3,739.4 182.8,730.8 183.5,712.9 184.9,668.5 185.5,659.1 185.8,657.0 186.0,657.2 186.2,658.1 186.7,664.1 189.2,708.8 190.9,733.7 191.8,743.3 192.5,749.5 193.2,753.8 193.5,755.1 193.9,755.6 194.1,755.6 194.2,755.2 194.4,754.6 194.8,752.3 195.3,745.6 195.6,738.6 196.4,717.4 197.8,662.4 198.3,651.2 198.5,649.6 198.6,649.2 199.0,651.3 199.3,656.3 201.8,706.9 202.8,724.1 204.1,740.8 205.5,756.2 206.9,768.3 208.1,775.7 208.6,777.4 209.0,777.9 209.2,777.8 209.5,776.9 209.7,776.1 210.2,770.9 210.9,755.8 211.6,726.9 213.0,646.6 213.4,635.6 213.6,632.9 213.7,632.1 213.9,633.0 214.3,638.7 215.8,682.2 217.1,707.6 218.7,730.4 219.4,737.8 220.1,743.5 220.8,746.8 221.1,747.4 221.3,747.3 221.5,747.0 222.0,744.2 222.5,737.9 223.4,718.2 225.0,667.0 225.5,657.6 225.7,656.2 225.9,655.7 226.0,656.1 226.2,657.1 226.7,663.7 229.0,706.5 230.8,732.4 231.8,744.4 232.7,752.1 233.4,756.4 233.8,757.7 234.1,758.3 234.3,758.2 234.5,757.9 234.6,757.2 235.0,755.0 235.5,748.3 235.9,741.1 236.6,719.4 238.0,661.3 238.5,649.2 238.7,647.6 238.8,647.1 239.0,647.8 239.4,651.7 239.7,658.0 241.3,693.2 242.4,712.9 243.6,731.7 245.0,749.2 246.7,766.3 248.7,780.5 249.7,786.5 250.6,790.5 251.3,792.7 251.7,793.4 252.0,793.6 252.4,793.1 252.7,791.7 253.2,787.0 253.8,777.3 254.1,766.7 254.8,731.7 256.1,642.7 256.4,626.7 256.8,620.8 256.9,621.3 257.3,627.9 258.7,673.5 259.7,697.4 260.4,708.6 261.3,719.2 262.2,726.4 262.9,729.4 263.3,729.8 263.4,729.7 263.8,728.8 264.3,725.5 264.7,721.8 265.4,711.2 267.1,677.2 267.6,671.6 267.8,670.7 268.0,670.3 268.2,670.3 268.7,672.9 269.2,678.1 271.5,709.2 272.9,724.5 273.6,729.9 274.1,732.5 274.5,733.4 274.7,733.6 274.8,733.6 275.0,733.3 275.2,732.8 275.5,731.0 275.9,728.0 276.6,718.3 278.7,673.7 279.2,668.3 279.4,667.6 279.6,667.4 279.8,667.7 280.1,669.7 280.6,675.2 283.1,711.1 284.5,727.4 285.2,733.2 285.7,736.2 286.3,737.7 286.4,737.8 286.6,737.7 286.8,737.3 287.1,735.8 287.5,733.0 288.0,726.3 288.7,712.2 290.3,672.7 290.8,665.5 291.2,663.9 291.4,664.0 291.7,665.8 292.2,671.7 294.5,708.2 296.1,728.6 296.8,735.4 297.5,740.5 298.0,742.7 298.4,743.2 298.6,743.2 298.9,742.3 299.1,741.4 299.4,738.6 300.1,728.3 300.8,711.2 302.2,670.0 302.8,661.3 303.1,659.3 303.3,659.4 303.5,660.2 304.0,665.8 306.5,708.6 308.2,732.7 309.1,741.8 309.8,747.3 310.5,750.6 310.8,751.1 311.0,751.1 311.4,750.1 311.5,749.2 311.9,746.2 312.6,734.9 313.3,715.2 314.7,665.3 315.2,654.9 315.4,653.4 315.6,652.8 315.8,653.2 315.9,654.4 316.3,658.7 318.7,706.5 320.7,735.4 321.7,747.5 322.8,757.2 323.7,763.0 324.2,764.9 324.5,765.3 324.9,764.8 325.1,764.1 325.4,761.6 325.9,754.4 326.3,746.7 327.0,722.5 328.4,656.4 328.9,643.4 329.1,641.9 329.3,641.7 329.6,645.0 330.0,651.5 332.1,700.7 333.8,729.6 335.1,745.1 336.3,757.3 337.5,765.9 338.1,767.9 338.4,768.4 338.6,768.3 338.8,768.0 338.9,767.4 339.5,763.3 340.2,750.7 340.9,726.6 342.3,656.7 342.8,641.7 343.0,639.8 343.2,639.3 343.3,640.2 343.7,645.2 345.6,692.3 347.0,718.2 347.9,731.0 348.9,743.8 349.8,752.4 350.7,758.8 351.4,761.6 351.6,761.9 351.8,762.0 352.1,761.3 352.6,757.8 353.2,750.3 354.0,725.2 355.6,656.5 356.0,647.7 356.1,645.4 356.3,644.3 356.5,644.5 356.8,647.9 357.2,654.3 359.5,705.1 360.5,722.8 361.6,737.6 363.0,753.8 364.4,766.5 365.1,771.5 365.8,775.4 366.3,777.4 366.7,778.0 366.9,778.0 367.2,777.5 367.4,776.7 367.9,772.4 368.4,763.2 368.8,753.4 369.5,722.7 370.7,650.7 371.2,634.0 371.4,632.2 371.6,632.2 372.1,640.4 373.5,679.8 374.8,705.9 376.3,729.2 377.2,738.5 377.9,743.9 378.6,746.8 378.8,747.1 379.0,747.2 379.2,747.0 379.7,744.5 380.2,738.9 381.1,720.2 382.8,664.8 383.2,658.6 383.4,656.9 383.5,656.0 383.7,656.0 384.1,658.2 384.4,662.6 386.7,705.1 388.5,731.3 389.3,741.6 390.2,749.9 391.1,755.8 391.4,757.2 391.8,757.8 392.0,757.8 392.1,757.6 392.3,757.0 392.7,754.9 393.2,748.6 393.5,741.8 394.3,720.7 395.8,657.6 396.2,650.2 396.4,648.2 396.5,647.5 396.7,647.8 397.1,651.3 397.4,657.4 399.0,692.4 400.0,712.2 401.1,728.6 402.3,744.6 403.9,761.2 405.7,775.4 406.5,781.0 407.4,785.6 408.1,788.3 408.5,789.1 408.8,789.4 409.2,789.0 409.5,787.8 410.1,783.2 410.6,773.6 410.9,763.2 411.6,729.4 412.9,645.0 413.2,629.7 413.6,623.8 413.7,624.2 414.1,630.1 415.7,678.6 416.9,704.1 417.8,716.8 418.7,726.2 419.5,732.2 419.9,733.5 420.2,734.0 420.4,734.0 420.6,733.7 420.9,732.3 421.6,725.8 422.3,714.2 424.1,675.0 424.6,668.4 424.8,667.3 425.0,666.7 425.2,666.8 425.5,668.3 426.0,673.4 428.5,709.8 430.1,728.4 430.8,734.2 431.5,737.9 431.8,738.7 432.0,738.8 432.4,738.3 432.5,737.6 432.9,735.4 433.2,731.9 433.8,723.8 435.9,671.7 436.4,664.5 436.7,663.0 436.9,663.2 437.1,664.0 437.6,669.0 440.1,708.6 441.7,729.3 442.4,736.2 443.1,741.5 443.4,743.2 443.8,744.3 443.9,744.6 444.1,744.6 444.3,744.4 444.6,743.1 445.0,740.5 445.7,730.7 446.4,713.7 447.8,670.6 448.3,660.8 448.5,659.1 448.7,658.3 448.9,658.2 449.2,660.1 449.7,666.8 452.0,707.7 453.8,732.6 454.7,742.0 455.5,749.2 456.2,752.6 456.6,753.3 456.8,753.3 456.9,753.0 457.3,751.6 457.6,748.8 458.3,737.7 459.0,717.9 460.6,660.4 461.0,653.7 461.2,651.9 461.3,651.1 461.5,651.3 461.9,654.3 462.2,659.7 464.7,708.9 466.4,735.3 467.7,749.7 468.9,761.1 469.9,768.0 470.5,770.0 470.8,770.6 471.0,770.6 471.2,770.3 471.3,769.7 471.9,765.9 472.4,757.7 472.7,749.0 473.4,721.9 474.7,657.4 475.0,644.8 475.4,638.4 475.6,637.6 475.7,638.3 476.1,643.1 478.2,695.0 479.1,711.6 479.9,725.3 481.0,738.9 481.9,747.9 482.8,754.6 483.3,757.2 483.6,758.0 483.8,758.1 484.0,757.9 484.2,757.5 484.5,755.7 485.0,750.0 485.4,743.6 486.1,723.6 487.7,659.5 488.0,651.1 488.2,648.7 488.4,647.4 488.5,647.3 488.9,650.1 489.3,655.8 491.2,698.0 492.6,722.3 494.3,745.8 496.1,763.8" fill="none" stroke="#000" stroke-width="2.5" stroke-linejoin="round"/><polyline points="57.1,709.8 58.0,727.5 58.5,734.8 59.2,742.1 59.9,746.9 60.4,748.6 60.6,748.7 60.8,748.6 61.0,748.2 61.3,746.3 62.0,738.0 62.5,726.7 64.5,663.9 64.8,657.3 65.0,655.4 65.2,654.5 65.4,654.4 65.7,656.7 66.1,661.3 68.5,708.0 70.4,736.1 71.5,747.7 72.6,756.6 73.1,759.6 73.4,760.9 73.8,761.5 74.0,761.4 74.1,761.1 74.7,758.4 75.0,754.5 75.7,740.1 76.4,715.2 77.6,660.5 78.2,647.1 78.3,645.2 78.5,644.6 78.7,645.2 78.9,646.8 79.2,652.4 80.8,688.8 81.9,709.5 82.9,726.4 84.1,742.8 85.7,759.6 87.3,772.3 88.0,776.5 88.5,778.7 89.1,780.0 89.2,780.1 89.4,780.0 89.6,779.6 90.1,776.8 90.5,772.8 91.2,757.2 91.9,727.5 93.3,644.6 93.6,633.7 93.8,631.1 94.0,630.5 94.2,631.8 94.5,638.8 95.9,683.5 97.1,712.8 97.8,725.3 98.7,738.1 99.4,746.1 100.1,751.9 100.5,753.8 100.8,754.9 101.0,755.0 101.2,754.9 101.4,754.4 101.9,750.9 102.4,743.4 103.3,720.3 104.9,663.4 105.4,653.3 105.6,651.9 105.7,651.5 105.9,651.9 106.3,653.9 107.0,662.6 110.0,715.7 111.2,734.3 112.2,748.0 113.5,761.5 114.5,770.4 115.4,775.4 115.8,776.6 116.1,777.2 116.3,777.4 116.6,776.6 116.8,775.7 117.2,772.5 117.7,763.5 118.0,754.3 118.7,727.0 120.1,654.9 120.7,637.7 121.0,633.1 121.2,632.8 121.4,634.1 121.7,640.5 123.7,695.6 125.2,728.7 126.1,742.7 127.0,753.9 127.7,760.3 128.0,762.3 128.4,763.2 128.6,763.1 128.7,762.8 128.9,762.1 129.4,757.6 130.1,743.2 130.9,715.3 132.1,650.7 132.4,640.4 132.6,637.9 132.8,637.1 133.0,638.0 133.3,643.1 135.1,687.7 136.3,711.7 138.8,740.8 139.5,747.8 140.2,753.1 140.9,756.4 141.2,757.0 141.4,757.0 141.6,756.7 142.1,753.8 142.6,747.2 143.5,725.1 145.1,662.1 145.6,650.2 145.8,648.6 146.0,648.1 146.3,650.1 146.7,655.2 148.4,693.2 149.6,715.7 150.7,731.6 152.6,757.4 153.7,767.5 155.1,777.5 156.1,782.6 156.7,784.1 157.0,784.3 157.4,783.8 157.5,783.2 158.1,779.1 158.6,770.5 158.9,761.0 159.7,730.1 161.1,642.1 161.4,630.5 161.6,627.9 161.8,627.4 161.9,628.7 162.3,635.5 163.7,677.4 164.9,703.9 165.6,715.1 166.5,726.2 167.4,734.3 168.1,738.4 168.4,739.4 168.6,739.5 168.8,739.5 169.0,739.2 169.1,738.6 169.7,735.0 170.0,730.9 170.9,713.7 172.5,671.8 173.0,664.0 173.3,662.2 173.5,662.3 173.7,663.0 174.2,668.0 176.9,710.9 178.6,733.1 179.3,739.6 180.0,744.1 180.4,745.5 180.7,746.0 180.9,746.0 181.1,745.7 181.2,745.1 181.6,743.0 182.0,739.4 182.5,730.8 183.2,712.9 184.6,668.5 185.1,659.1 185.5,657.0 185.6,657.2 185.8,658.1 186.3,664.1 188.8,708.8 190.6,733.7 191.4,743.3 192.1,749.5 192.8,753.8 193.2,755.1 193.5,755.6 193.7,755.6 193.9,755.2 194.1,754.6 194.4,752.3 194.9,745.6 195.3,738.6 196.0,717.4 197.4,662.4 197.9,651.2 198.1,649.6 198.3,649.2 198.6,651.3 199.0,656.3 201.4,706.9 202.5,724.1 203.7,740.8 205.1,756.2 206.5,768.3 207.8,775.7 208.3,777.4 208.6,777.9 208.8,777.8 209.2,776.9 209.3,776.1 209.9,770.9 210.6,755.8 211.3,726.9 212.7,646.6 213.0,635.6 213.2,632.9 213.4,632.1 213.6,633.0 213.9,638.7 215.5,682.2 216.7,707.6 218.3,730.4 219.0,737.8 219.7,743.5 220.4,746.8 220.8,747.4 220.9,747.3 221.1,747.0 221.6,744.2 222.2,737.9 223.0,718.2 224.6,667.0 225.1,657.6 225.3,656.2 225.5,655.7 225.7,656.1 225.9,657.1 226.4,663.7 228.7,706.5 230.4,732.4 231.5,744.4 232.3,752.1 233.1,756.4 233.4,757.7 233.8,758.3 233.9,758.2 234.1,757.9 234.3,757.2 234.6,755.0 235.2,748.3 235.5,741.1 236.2,719.4 237.6,661.3 238.1,649.2 238.3,647.6 238.5,647.1 238.7,647.8 239.0,651.7 239.4,658.0 241.0,693.2 242.0,712.9 243.4,734.1 245.2,755.2 246.4,778.0 246.7,781.6 248.2,789.0 249.2,792.7 249.6,793.4 249.9,793.6 250.3,793.1 250.6,791.7 251.1,787.0 251.7,777.3 252.0,766.7 252.7,731.7 253.9,642.7 254.3,626.7 254.6,620.8 254.8,621.3 255.2,627.9 256.6,673.5 257.6,697.4 258.9,715.3 260.3,728.5 261.3,743.3 261.7,745.9 261.8,746.0 262.0,746.0 262.2,745.7 262.6,744.2 263.1,739.4 263.4,734.1 264.1,718.0 265.7,668.5 266.2,659.1 266.6,657.0 266.8,657.2 266.9,658.1 267.5,664.1 270.1,711.7 271.0,724.7 272.0,737.8 272.9,746.6 273.8,752.9 274.1,754.5 274.5,755.5 274.7,755.6 274.8,755.6 275.2,754.6 275.5,752.3 275.9,748.3 276.4,738.6 277.1,717.4 278.5,662.4 279.1,651.2 279.2,649.6 279.4,649.2 279.8,651.3 280.1,656.3 282.6,706.9 283.6,724.1 284.9,740.8 286.1,754.5 287.5,767.0 288.7,774.9 289.2,777.0 289.6,777.7 289.8,777.9 289.9,777.8 290.1,777.5 290.3,776.9 290.8,773.1 291.4,764.8 291.7,755.8 292.4,726.9 293.8,646.6 294.2,635.6 294.3,632.9 294.5,632.1 294.7,633.0 295.0,638.7 296.6,682.2 297.3,696.4 300.0,726.7 300.8,734.2 301.5,737.9 301.9,738.7 302.1,738.8 302.4,738.3 302.6,737.6 303.1,733.8 303.5,729.5 304.2,716.5 305.9,671.7 306.5,664.5 306.8,663.0 307.0,663.2 307.2,664.0 307.7,669.0 310.3,711.2 311.2,723.1 312.1,733.0 312.8,739.1 313.5,743.2 313.8,744.3 314.0,744.6 314.2,744.6 314.5,743.9 314.7,743.1 315.4,736.5 316.1,723.1 318.0,666.6 318.4,660.8 318.6,659.1 318.7,658.3 318.9,658.2 319.3,660.1 319.8,666.8 322.1,707.7 323.7,730.4 324.5,740.3 325.2,746.6 325.9,751.2 326.3,752.6 326.6,753.3 326.8,753.3 327.0,753.0 327.2,752.5 327.5,750.4 328.1,744.3 328.4,737.7 329.1,717.9 330.7,660.4 331.0,653.7 331.2,651.9 331.4,651.1 331.6,651.3 331.9,654.3 332.3,659.7 334.7,708.9 336.5,735.3 337.7,749.7 338.8,759.7 339.8,767.1 340.3,769.5 340.7,770.4 340.9,770.0 341.0,768.0 341.4,757.1 342.4,682.1 343.0,656.7 343.5,641.7 343.7,639.8 343.9,639.3 344.0,640.2 344.4,645.2 346.3,692.3 347.7,718.2 348.6,731.0 349.6,743.8 350.5,752.4 351.4,758.8 352.1,761.6 352.3,761.9 352.5,762.0 352.8,761.3 353.3,757.8 353.9,750.3 354.7,725.2 356.3,656.5 356.7,647.7 356.8,645.4 357.0,644.3 357.2,644.5 357.6,647.9 357.9,654.3 360.2,705.1 361.2,722.8 362.3,737.6 363.7,753.8 365.1,766.5 365.8,771.5 366.5,775.4 367.0,777.4 367.4,778.0 367.6,778.0 367.9,777.5 368.1,776.7 368.6,772.4 369.1,763.2 369.5,753.4 370.2,722.7 371.4,650.7 372.0,634.0 372.1,632.2 372.3,632.2 372.8,640.4 374.2,679.8 375.5,705.9 377.0,729.2 377.9,738.5 378.6,743.9 379.3,746.8 379.5,747.1 379.7,747.2 379.9,747.0 380.4,744.5 380.9,738.9 381.8,720.2 383.5,664.8 383.9,658.6 384.1,656.9 384.2,656.0 384.4,656.0 384.8,658.2 385.1,662.6 387.4,705.1 389.2,731.3 390.0,741.6 390.9,749.9 391.8,755.8 392.1,757.2 392.5,757.8 392.7,757.8 392.8,757.6 393.0,757.0 393.4,754.9 393.9,748.6 394.3,741.8 395.0,720.7 396.5,657.6 396.9,650.2 397.1,648.2 397.2,647.5 397.4,647.8 397.8,651.3 398.1,657.4 399.5,688.7 400.6,709.1 403.9,761.0 405.1,771.6 406.5,781.0 407.8,787.1 408.3,788.7 408.7,789.3 408.8,789.4 409.2,789.0 409.5,787.8 410.1,783.2 410.6,773.6 410.9,763.2 411.6,729.4 412.9,645.0 413.2,629.7 413.6,623.8 413.7,624.2 414.1,630.1 415.5,673.9 416.6,698.0 417.8,716.8 418.5,724.6 419.2,730.3 419.9,733.5 420.2,734.0 420.4,734.0 420.9,732.3 421.5,727.9 422.3,714.2 424.1,675.0 424.6,668.4 424.8,667.3 425.0,666.7 425.2,666.8 425.5,668.3 426.0,673.4 428.5,709.8 429.9,726.7 430.4,731.3 431.0,733.6 431.3,735.9 432.9,753.4 434.1,764.3 435.0,770.2 435.5,772.6 435.9,773.6 436.2,773.8 436.6,773.2 437.1,769.8 437.6,762.2 438.0,753.9 438.7,727.3 440.1,651.3 440.4,639.8 440.8,635.2 441.0,635.4 441.3,639.8 443.2,689.4 444.8,718.6 445.7,730.8 446.8,742.5 447.6,749.4 448.3,752.6 448.7,753.0 448.9,752.8 449.4,750.6 449.9,745.0 450.3,738.9 451.0,720.0 452.6,662.3 452.9,654.8 453.1,652.6 453.3,651.5 453.4,651.3 453.8,653.7 454.1,658.7 455.9,694.8 456.9,713.7 458.0,729.6 459.0,743.1 460.5,757.4 461.7,766.5 462.2,768.9 462.7,769.9 462.9,769.9 463.1,769.6 463.4,768.2 463.8,765.2 464.1,760.3 464.8,742.6 465.4,721.1 466.6,657.3 467.1,641.1 467.3,638.8 467.5,638.1 467.7,638.8 468.0,643.7 469.9,691.5 471.3,717.6 472.2,730.4 473.3,743.0 474.1,751.4 475.0,757.2 475.4,758.5 475.7,759.2 475.9,759.1 476.1,758.9 476.3,758.3 476.8,754.5 477.3,746.5 478.2,721.2 479.6,661.9 480.1,648.9 480.3,647.1 480.5,646.4 480.6,647.2 481.0,652.5 482.6,693.0 484.0,720.6 485.6,743.3 486.4,753.1 487.5,762.8 488.4,769.4 489.3,774.9 490.0,778.4 490.7,780.6 491.0,781.0 491.9,780.9 492.9,780.6 493.8,780.1 495.0,778.8 496.1,776.9" fill="none" stroke="#12128c" stroke-width="2.4" stroke-dasharray="2.3 3.5"/></g>
<line x1="285.4" y1="594.7" x2="285.4" y2="822.5" stroke="#b02424" stroke-width="1.6" stroke-dasharray="2.7 2.0"/>
<line x1="413.0" y1="594.7" x2="413.0" y2="822.5" stroke="#b02424" stroke-width="1.6" stroke-dasharray="2.7 2.0"/>
<line x1="55.75" y1="594.7" x2="55.75" y2="822.5" stroke="#000" stroke-width="1.5"/>
<line x1="63.8" y1="626.0" x2="277.0" y2="626.0" stroke="#000" stroke-width="1.5"/><polygon points="56.2,626.0 64.8,622.9 64.8,629.1" fill="#000"/><polygon points="284.6,626.0 276.0,622.9 276.0,629.1" fill="#000"/>
<line x1="63.8" y1="814.0" x2="403.4" y2="814.0" stroke="#000" stroke-width="1.5"/><polygon points="56.2,814.0 64.8,810.9 64.8,817.1" fill="#000"/><polygon points="411.0,814.0 402.4,810.9 402.4,817.1" fill="#000"/>
<text x="175.2" y="620.4" text-anchor="middle" font-family="'Liberation Serif','Times New Roman',serif" font-size="12.9" fill="#1a1a1a">Multi-step DNN</text>
<text x="222" y="809.6" text-anchor="middle" font-family="'Liberation Serif','Times New Roman',serif" font-size="12.9" fill="#1a1a1a">Ours</text>
<text x="273.6" y="808.4" text-anchor="middle" font-family="'Liberation Serif','Times New Roman',serif" font-size="14.3" fill="#1a1a1a">(c)</text>
<rect x="412" y="599.25" width="101.25" height="43.75" rx="2" fill="#fff" fill-opacity="0.8" stroke="#d0d0d0" stroke-width="0.8"/>
<line x1="415" y1="607" x2="436.5" y2="607" stroke="#000" stroke-width="2.5"/>
<text x="444" y="610.4" font-family="'Liberation Serif','Times New Roman',serif" font-weight="bold" font-size="9.6" fill="#000">Exact</text>
<line x1="415" y1="620.75" x2="436.5" y2="620.75" stroke="#84ec34" stroke-width="2.3" stroke-dasharray="14.4 3.6 2.2 3.6"/>
<text x="444" y="624.15" font-family="'Liberation Serif','Times New Roman',serif" font-weight="bold" font-size="9.6" fill="#000">Ours_z</text>
<line x1="415" y1="634.5" x2="436.5" y2="634.5" stroke="#12128c" stroke-width="2.4" stroke-dasharray="2.3 3.5"/>
<text x="444" y="637.9" font-family="'Liberation Serif','Times New Roman',serif" font-weight="bold" font-size="9.6" fill="#000">Multi-step DNN</text>
<rect x="35.5" y="594.7" width="482.0" height="227.79999999999995" fill="none" stroke="#262626" stroke-width="1"/>
<line x1="57.10" y1="822.5" x2="57.10" y2="826.0" stroke="#262626" stroke-width="0.9"/>
<text x="57.10" y="837.1" text-anchor="middle" font-family="'Liberation Serif','Times New Roman',serif" font-weight="bold" font-size="10.4" fill="#000">0</text>
<line x1="144.90" y1="822.5" x2="144.90" y2="826.0" stroke="#262626" stroke-width="0.9"/>
<text x="144.90" y="837.1" text-anchor="middle" font-family="'Liberation Serif','Times New Roman',serif" font-weight="bold" font-size="10.4" fill="#000">5</text>
<line x1="232.70" y1="822.5" x2="232.70" y2="826.0" stroke="#262626" stroke-width="0.9"/>
<text x="232.70" y="837.1" text-anchor="middle" font-family="'Liberation Serif','Times New Roman',serif" font-weight="bold" font-size="10.4" fill="#000">10</text>
<line x1="320.50" y1="822.5" x2="320.50" y2="826.0" stroke="#262626" stroke-width="0.9"/>
<text x="320.50" y="837.1" text-anchor="middle" font-family="'Liberation Serif','Times New Roman',serif" font-weight="bold" font-size="10.4" fill="#000">15</text>
<line x1="408.30" y1="822.5" x2="408.30" y2="826.0" stroke="#262626" stroke-width="0.9"/>
<text x="408.30" y="837.1" text-anchor="middle" font-family="'Liberation Serif','Times New Roman',serif" font-weight="bold" font-size="10.4" fill="#000">20</text>
<line x1="496.10" y1="822.5" x2="496.10" y2="826.0" stroke="#262626" stroke-width="0.9"/>
<text x="496.10" y="837.1" text-anchor="middle" font-family="'Liberation Serif','Times New Roman',serif" font-weight="bold" font-size="10.4" fill="#000">25</text>
<line x1="32.0" y1="822.50" x2="35.5" y2="822.50" stroke="#262626" stroke-width="0.9"/>
<text x="28.0" y="825.60" text-anchor="end" font-family="'Liberation Serif','Times New Roman',serif" font-weight="bold" font-size="10.4" fill="#000">0</text>
<line x1="32.0" y1="776.90" x2="35.5" y2="776.90" stroke="#262626" stroke-width="0.9"/>
<text x="28.0" y="780.00" text-anchor="end" font-family="'Liberation Serif','Times New Roman',serif" font-weight="bold" font-size="10.4" fill="#000">10</text>
<line x1="32.0" y1="731.30" x2="35.5" y2="731.30" stroke="#262626" stroke-width="0.9"/>
<text x="28.0" y="734.40" text-anchor="end" font-family="'Liberation Serif','Times New Roman',serif" font-weight="bold" font-size="10.4" fill="#000">20</text>
<line x1="32.0" y1="685.70" x2="35.5" y2="685.70" stroke="#262626" stroke-width="0.9"/>
<text x="28.0" y="688.80" text-anchor="end" font-family="'Liberation Serif','Times New Roman',serif" font-weight="bold" font-size="10.4" fill="#000">30</text>
<line x1="32.0" y1="640.10" x2="35.5" y2="640.10" stroke="#262626" stroke-width="0.9"/>
<text x="28.0" y="643.20" text-anchor="end" font-family="'Liberation Serif','Times New Roman',serif" font-weight="bold" font-size="10.4" fill="#000">40</text>
<line x1="32.0" y1="594.50" x2="35.5" y2="594.50" stroke="#262626" stroke-width="0.9"/>
<text x="28.0" y="597.60" text-anchor="end" font-family="'Liberation Serif','Times New Roman',serif" font-weight="bold" font-size="10.4" fill="#000">50</text>
<text x="0" y="0" transform="translate(10.2,708.6) rotate(-90)" text-anchor="middle" font-family="'Liberation Serif','Times New Roman',serif" font-weight="bold" font-size="10.4" fill="#000">Z</text>
<text x="276.6" y="851.5" text-anchor="middle" font-family="'DejaVu Sans',sans-serif" font-style="italic" font-size="13.5" fill="#000">t</text>
<text x="277.0" y="588.5" text-anchor="middle" font-family="'Liberation Serif','Times New Roman',serif" font-weight="bold" font-size="12.9" fill="#000">Sequence Chart</text>
</svg></body></html>
